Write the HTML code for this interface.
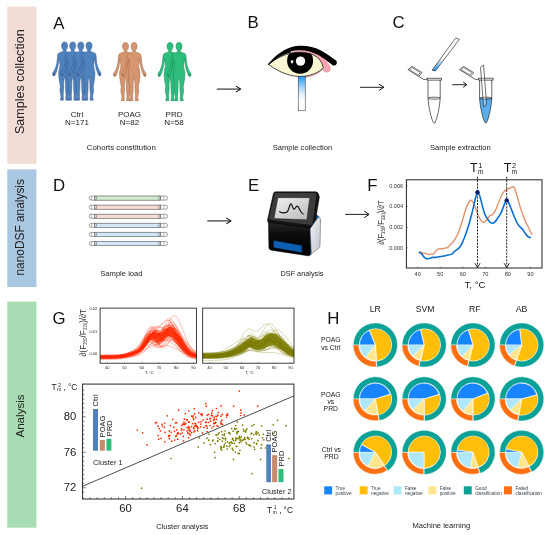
<!DOCTYPE html>
<html><head><meta charset="utf-8"><title>Figure</title>
<style>
html,body{margin:0;padding:0;background:#fff;}
svg{display:block;font-family:"Liberation Sans", sans-serif;}
</style></head><body>
<svg width="550" height="535" viewBox="0 0 550 535">
<rect width="550" height="535" fill="#fff"/>
<rect x="7.3" y="6.6" width="29.1" height="157.2" fill="#f3dcd6"/><rect x="7.3" y="169.4" width="29.1" height="117.6" fill="#a9c7e0"/><rect x="7.3" y="301.6" width="29.1" height="226.1" fill="#a8dcb2"/><text transform="translate(24.2,81.7) rotate(-90)" text-anchor="middle" font-size="12.55" fill="#222">Samples collection</text><text transform="translate(24.2,227.3) rotate(-90)" text-anchor="middle" font-size="11.9" fill="#222">nanoDSF analysis</text><text transform="translate(24.2,416) rotate(-90)" text-anchor="middle" font-size="11.6" fill="#222">Analysis</text><text x="53.2" y="28.6" font-size="16.8" fill="#111">A</text><text x="247.6" y="28.3" font-size="16.8" fill="#111">B</text><text x="392.6" y="28.3" font-size="16.8" fill="#111">C</text><text x="53" y="191.2" font-size="16.8" fill="#111">D</text><text x="248" y="191.2" font-size="16.8" fill="#111">E</text><text x="367.2" y="191.2" font-size="16.8" fill="#111">F</text><text x="52.6" y="324.4" font-size="16.8" fill="#111">G</text><text x="327.2" y="323.9" font-size="16.8" fill="#111">H</text><path d="M216.8 89.1H240.2" stroke="#222" stroke-width="1.1" fill="none"/><path d="M236.0 86.1L240.6 89.1L236.0 92.1" stroke="#111" stroke-width="1.1" fill="none" stroke-linejoin="miter"/><path d="M360 87.3H383.5" stroke="#222" stroke-width="1.0" fill="none"/><path d="M378.9 84.1L383.9 87.3L378.9 90.5" stroke="#111" stroke-width="1.0" fill="none" stroke-linejoin="miter"/><path d="M452.2 84.7H466.40000000000003" stroke="#222" stroke-width="1.0" fill="none"/><path d="M463.2 82.10000000000001L466.8 84.7L463.2 87.3" stroke="#111" stroke-width="1.0" fill="none" stroke-linejoin="miter"/><path d="M207.3 220.9H230.5" stroke="#222" stroke-width="1.1" fill="none"/><path d="M226.3 217.9L230.9 220.9L226.3 223.9" stroke="#111" stroke-width="1.1" fill="none" stroke-linejoin="miter"/><path d="M345.2 214.4H368.70000000000005" stroke="#222" stroke-width="1.0" fill="none"/><path d="M364.3 211.1L369.1 214.4L364.3 217.70000000000002" stroke="#111" stroke-width="1.0" fill="none" stroke-linejoin="miter"/><defs><path id="hm" d="M0 0 C2 0 3.1 1.6 3 4 C2.9 5.8 2.2 7.2 1.3 8 L1.3 9.2 C2.5 10 4.8 10.4 5.8 11 C6.8 11.8 7 13 7.1 14.5 C7.3 17 7.5 19.5 7.8 21.5 C8.3 24 9.2 26 10 28 C10.8 29.5 12 30.5 12 31.8 C12 33 11.4 34.2 10.6 34 C9.8 33.8 9.4 33 9 32 C8.2 29.5 7.4 27.5 6.9 25.5 C6.3 22.5 5.9 20 5.4 16.5 C5.3 19 4.7 21 4.6 23 C4.6 26 5.8 28 5.9 30.5 C6 33 5.7 35 5.5 37 C5.2 40 4.4 42 4.3 44 C4.3 46 4.7 47 4.6 48.5 C4.4 51 3.8 52.5 3.6 54.5 C3.5 56 4.4 57.2 4.3 58.2 L1.2 58.2 C1 56.5 1.5 55 1.4 53 C1.2 50 0.8 47 0.9 44 C1 40 0.6 37 0 34.5 C-0.6 37 -1 40 -0.9 44 C-0.8 47 -1.2 50 -1.4 53 C-1.5 55 -1 56.5 -1.2 58.2 L-4.3 58.2 C-4.4 57.2 -3.5 56 -3.6 54.5 C-3.8 52.5 -4.4 51 -4.6 48.5 C-4.7 47 -4.3 46 -4.3 44 C-4.4 42 -5.2 40 -5.5 37 C-5.7 35 -6 33 -5.9 30.5 C-5.8 28 -4.6 26 -4.6 23 C-4.7 21 -5.3 19 -5.4 16.5 C-5.9 20 -6.3 22.5 -6.9 25.5 C-7.4 27.5 -8.2 29.5 -9 32 C-9.4 33 -9.8 33.8 -10.6 34 C-11.4 34.2 -12 33 -12 31.8 C-12 30.5 -10.8 29.5 -10 28 C-9.2 26 -8.3 24 -7.8 21.5 C-7.5 19.5 -7.3 17 -7.1 14.5 C-7 13 -6.8 11.8 -5.8 11 C-4.8 10.4 -2.5 10 -1.3 9.2 L-1.3 8 C-2.2 7.2 -2.9 5.8 -3 4 C-3.1 1.6 -2 0 0 0 Z"/></defs><use href="#hm" x="64.6" y="42" fill="#4f81bd" stroke="#35598c" stroke-width="0.5"/><ellipse cx="53.699999999999996" cy="74.7" rx="0.9" ry="1.2" fill="#35598c" opacity="0.75"/><ellipse cx="75.5" cy="74.7" rx="0.9" ry="1.2" fill="#35598c" opacity="0.75"/><use href="#hm" x="72.7" y="42" fill="#4f81bd" stroke="#35598c" stroke-width="0.5"/><ellipse cx="61.800000000000004" cy="74.7" rx="0.9" ry="1.2" fill="#35598c" opacity="0.75"/><ellipse cx="83.60000000000001" cy="74.7" rx="0.9" ry="1.2" fill="#35598c" opacity="0.75"/><use href="#hm" x="80.8" y="42" fill="#4f81bd" stroke="#35598c" stroke-width="0.5"/><ellipse cx="69.89999999999999" cy="74.7" rx="0.9" ry="1.2" fill="#35598c" opacity="0.75"/><ellipse cx="91.7" cy="74.7" rx="0.9" ry="1.2" fill="#35598c" opacity="0.75"/><use href="#hm" x="89.0" y="42" fill="#4f81bd" stroke="#35598c" stroke-width="0.5"/><ellipse cx="78.1" cy="74.7" rx="0.9" ry="1.2" fill="#35598c" opacity="0.75"/><ellipse cx="99.9" cy="74.7" rx="0.9" ry="1.2" fill="#35598c" opacity="0.75"/><use href="#hm" x="125.5" y="42.5" fill="#d6956f" stroke="#9c6847" stroke-width="0.5"/><ellipse cx="114.6" cy="75.2" rx="0.9" ry="1.2" fill="#9c6847" opacity="0.75"/><ellipse cx="136.4" cy="75.2" rx="0.9" ry="1.2" fill="#9c6847" opacity="0.75"/><use href="#hm" x="134.1" y="42.5" fill="#d6956f" stroke="#9c6847" stroke-width="0.5"/><ellipse cx="123.19999999999999" cy="75.2" rx="0.9" ry="1.2" fill="#9c6847" opacity="0.75"/><ellipse cx="145.0" cy="75.2" rx="0.9" ry="1.2" fill="#9c6847" opacity="0.75"/><use href="#hm" x="170" y="42.5" fill="#2dbd7c" stroke="#1b8554" stroke-width="0.5"/><ellipse cx="159.1" cy="75.2" rx="0.9" ry="1.2" fill="#1b8554" opacity="0.75"/><ellipse cx="180.9" cy="75.2" rx="0.9" ry="1.2" fill="#1b8554" opacity="0.75"/><use href="#hm" x="179" y="42.5" fill="#2dbd7c" stroke="#1b8554" stroke-width="0.5"/><ellipse cx="168.1" cy="75.2" rx="0.9" ry="1.2" fill="#1b8554" opacity="0.75"/><ellipse cx="189.9" cy="75.2" rx="0.9" ry="1.2" fill="#1b8554" opacity="0.75"/><text x="77" y="117" text-anchor="middle" font-size="8" fill="#222">Ctrl</text><text x="77" y="124.7" text-anchor="middle" font-size="8" fill="#222">N=171</text><text x="129.5" y="117" text-anchor="middle" font-size="8" fill="#222">POAG</text><text x="129.5" y="124.7" text-anchor="middle" font-size="8" fill="#222">N=82</text><text x="174" y="117" text-anchor="middle" font-size="8" fill="#222">PRD</text><text x="174" y="124.7" text-anchor="middle" font-size="8" fill="#222">N=58</text><text x="121.3" y="150.4" text-anchor="middle" font-size="7.8" fill="#222">Cohorts constitution</text><defs><linearGradient id="strip" x1="0" y1="0" x2="0" y2="1"><stop offset="0" stop-color="#249bf3"/><stop offset="0.12" stop-color="#4fb0f6"/><stop offset="0.3" stop-color="#9fd0f9"/><stop offset="0.5" stop-color="#dceefc"/><stop offset="0.7" stop-color="#ffffff"/><stop offset="1" stop-color="#ffffff"/></linearGradient><clipPath id="eyeclip"><path d="M268.5 64.4 C276 58.5 284 54.5 292 53 C300 51.6 308 52.4 314 55.2 C319 57.8 322 62 323.2 67.5 C320 72 312 75.5 303 76.4 C292 77.2 280 73 268.5 64.4Z"/></clipPath></defs><path d="M287 53.8 C296 49.4 310 49.4 319.4 54.4 C325.4 58 328.2 62.6 329.8 66.2 C331.2 69 330.2 72 327.2 72.3 C324 72.4 322.2 70 322.8 67 L317 58 L300 52.6 Z" fill="#f5a5b2" stroke="#d88896" stroke-width="0.3"/><path d="M300 77.4 C310 77.2 319 73.5 323.8 68" stroke="#e9a9b0" stroke-width="1.2" fill="none"/><path d="M268.5 64.4 C276 58.5 284 54.5 292 53 C300 51.6 308 52.4 314 55.2 C319 57.8 322 62 323.2 67.5 C320 72 312 75.5 303 76.4 C292 77.2 280 73 268.5 64.4Z" fill="#fbf7d3" stroke="#222" stroke-width="0.8"/><g clip-path="url(#eyeclip)"><circle cx="300.1" cy="60.7" r="13" fill="#000"/></g><circle cx="300.5" cy="61.1" r="4.7" fill="#fff"/><path d="M290.6 60.6 L293.4 60.2 L293.2 63 L291.2 63.4Z" fill="#e8e8e8"/><path d="M268.5 64.4 C275 58 283 53.6 291 51.6" stroke="#000" stroke-width="1.1" fill="none"/><path d="M268.2 64.2 C274 56.8 282 50.3 291 47.3 C301 44.3 312 46.0 320.5 50.2 C326.5 53.4 332 57.6 336 60.6 C338 62.4 336.4 66.6 333 65.4 C329 62.2 324 58.4 318.8 55.2 C311 51 301 49 292 51 C283 53.2 275.5 58.2 268.6 65Z" fill="#000"/><rect x="298.2" y="76.2" width="7" height="34.6" fill="url(#strip)" stroke="#222" stroke-width="0.5"/><text x="302.5" y="150.2" text-anchor="middle" font-size="7.6" fill="#222">Sample collection</text><defs><linearGradient id="strip2" gradientUnits="userSpaceOnUse" x1="433.8" y1="70.5" x2="457.5" y2="38.5"><stop offset="0" stop-color="#2f9bf0"/><stop offset="0.15" stop-color="#6cb8f5"/><stop offset="0.38" stop-color="#ffffff"/><stop offset="1" stop-color="#ffffff"/></linearGradient></defs><g transform="translate(0,0)" fill="none" stroke="#222" stroke-width="0.7"><path d="M428 80.1 L428 98.2 C428.6 108 431.5 119 433.2 122 C433.8 123.4 434.8 123.4 435.2 122 C436.9 119 439.6 108 440.2 98.2 L440.2 80.1"/><ellipse cx="434.1" cy="98.2" rx="6.1" ry="1" /><rect x="427.1" y="78.2" width="14.4" height="1.9" fill="#fff"/><path d="M407.9 69.6 L412.1 66.4 L422 72.6 L418.7 76.4 Z" fill="#fff"/><path d="M409.6 69.7 L412.2 67.7 L420.2 72.8 L418.2 75.0 Z" stroke-width="0.5"/><path d="M418.7 76.4 L423.9 79.5 L427.4 79.1" /></g><path d="M455.7 37.9 L459.4 39.3 L435.5 70.9 L432.1 70.2 Z" fill="url(#strip2)" stroke="#222" stroke-width="0.65"/><g transform="translate(51.6,0)" fill="none" stroke="#222" stroke-width="0.7"><path d="M428 98.2 C428.6 108 431.5 119 433.2 122 C433.8 123.4 434.8 123.4 435.2 122 C436.9 119 439.6 108 440.2 98.2 Z" fill="#5aaeee" stroke="none"/><path d="M428 80.1 L428 98.2 C428.6 108 431.5 119 433.2 122 C433.8 123.4 434.8 123.4 435.2 122 C436.9 119 439.6 108 440.2 98.2 L440.2 80.1"/><ellipse cx="434.1" cy="98.2" rx="6.1" ry="1" /><rect x="427.1" y="78.2" width="14.4" height="1.9" fill="#fff"/><path d="M407.9 69.6 L412.1 66.4 L422 72.6 L418.7 76.4 Z" fill="#fff"/><path d="M409.6 69.7 L412.2 67.7 L420.2 72.8 L418.2 75.0 Z" stroke-width="0.5"/><path d="M418.7 76.4 L423.9 79.5 L427.4 79.1" /></g><path d="M480.5 67.4 L483.6 65.1 L486.6 104.5 L483.6 106.8 Z" fill="#ffffff" fill-opacity="0.35" stroke="#222" stroke-width="0.65"/><text x="460.3" y="150.2" text-anchor="middle" font-size="7.6" fill="#222">Sample extraction</text><rect x="89.2" y="196.10" width="78.4" height="4" rx="2" fill="#fff" stroke="#555" stroke-width="0.55"/><rect x="94.6" y="196.10" width="66.2" height="4" fill="#d3ecd0" stroke="#666" stroke-width="0.5"/><path d="M91.6 196.10V200.10" stroke="#666" stroke-width="0.45"/><path d="M164.0 196.10V200.10" stroke="#666" stroke-width="0.45"/><rect x="94.69999999999999" y="196.40" width="1.8" height="3.4" rx="0.8" fill="none" stroke="#556" stroke-width="0.5"/><rect x="158.7" y="196.40" width="1.8" height="3.4" rx="0.8" fill="none" stroke="#556" stroke-width="0.5"/><rect x="89.2" y="205.18" width="78.4" height="4" rx="2" fill="#fff" stroke="#555" stroke-width="0.55"/><rect x="94.6" y="205.18" width="66.2" height="4" fill="#f6dcd3" stroke="#666" stroke-width="0.5"/><path d="M91.6 205.18V209.18" stroke="#666" stroke-width="0.45"/><path d="M164.0 205.18V209.18" stroke="#666" stroke-width="0.45"/><rect x="94.69999999999999" y="205.48" width="1.8" height="3.4" rx="0.8" fill="none" stroke="#556" stroke-width="0.5"/><rect x="158.7" y="205.48" width="1.8" height="3.4" rx="0.8" fill="none" stroke="#556" stroke-width="0.5"/><rect x="89.2" y="214.26" width="78.4" height="4" rx="2" fill="#fff" stroke="#555" stroke-width="0.55"/><rect x="94.6" y="214.26" width="66.2" height="4" fill="#f6dcd3" stroke="#666" stroke-width="0.5"/><path d="M91.6 214.26V218.26" stroke="#666" stroke-width="0.45"/><path d="M164.0 214.26V218.26" stroke="#666" stroke-width="0.45"/><rect x="94.69999999999999" y="214.56" width="1.8" height="3.4" rx="0.8" fill="none" stroke="#556" stroke-width="0.5"/><rect x="158.7" y="214.56" width="1.8" height="3.4" rx="0.8" fill="none" stroke="#556" stroke-width="0.5"/><rect x="89.2" y="223.34" width="78.4" height="4" rx="2" fill="#fff" stroke="#555" stroke-width="0.55"/><rect x="94.6" y="223.34" width="66.2" height="4" fill="#d2e8f8" stroke="#666" stroke-width="0.5"/><path d="M91.6 223.34V227.34" stroke="#666" stroke-width="0.45"/><path d="M164.0 223.34V227.34" stroke="#666" stroke-width="0.45"/><rect x="94.69999999999999" y="223.64" width="1.8" height="3.4" rx="0.8" fill="none" stroke="#556" stroke-width="0.5"/><rect x="158.7" y="223.64" width="1.8" height="3.4" rx="0.8" fill="none" stroke="#556" stroke-width="0.5"/><rect x="89.2" y="232.42" width="78.4" height="4" rx="2" fill="#fff" stroke="#555" stroke-width="0.55"/><rect x="94.6" y="232.42" width="66.2" height="4" fill="#d2e8f8" stroke="#666" stroke-width="0.5"/><path d="M91.6 232.42V236.42" stroke="#666" stroke-width="0.45"/><path d="M164.0 232.42V236.42" stroke="#666" stroke-width="0.45"/><rect x="94.69999999999999" y="232.72" width="1.8" height="3.4" rx="0.8" fill="none" stroke="#556" stroke-width="0.5"/><rect x="158.7" y="232.72" width="1.8" height="3.4" rx="0.8" fill="none" stroke="#556" stroke-width="0.5"/><rect x="89.2" y="241.50" width="78.4" height="4" rx="2" fill="#fff" stroke="#555" stroke-width="0.55"/><rect x="94.6" y="241.50" width="66.2" height="4" fill="#d2e8f8" stroke="#666" stroke-width="0.5"/><path d="M91.6 241.50V245.50" stroke="#666" stroke-width="0.45"/><path d="M164.0 241.50V245.50" stroke="#666" stroke-width="0.45"/><rect x="94.69999999999999" y="241.80" width="1.8" height="3.4" rx="0.8" fill="none" stroke="#556" stroke-width="0.5"/><rect x="158.7" y="241.80" width="1.8" height="3.4" rx="0.8" fill="none" stroke="#556" stroke-width="0.5"/><text x="121.4" y="276.3" text-anchor="middle" font-size="7.6" fill="#222">Sample load</text><defs><linearGradient id="scr" x1="0" y1="0" x2="1" y2="1"><stop offset="0" stop-color="#f2f2f2"/><stop offset="1" stop-color="#b9b9b9"/></linearGradient><linearGradient id="side" x1="0" y1="0" x2="1" y2="1"><stop offset="0" stop-color="#f4f4f6"/><stop offset="1" stop-color="#bfc3cc"/></linearGradient><linearGradient id="bodyg" x1="0" y1="0" x2="0" y2="1"><stop offset="0" stop-color="#2a2a2a"/><stop offset="0.4" stop-color="#0a0a0a"/><stop offset="1" stop-color="#000"/></linearGradient></defs><path d="M314.5 213 L319.4 217 L312 230 L309 228 Z" fill="#0b5cad" stroke="#06335f" stroke-width="0.4"/><path d="M318.6 216.8 Q320.6 217.6 320.6 220 L320 246 Q319.9 247.6 318.6 248.4 L311.6 253.6 L309.9 229 Z" fill="url(#side)" stroke="#555" stroke-width="0.5"/><path d="M309.7 228.5 L311.4 254.6 L309 255.4 L308.6 229Z" fill="#0b5cad"/><path d="M268.4 221 L309.8 227 L310.4 253.6 Q310.4 256 308 255.8 L271.5 250.2 Q268.9 249.8 268.9 247.4 Z" fill="url(#bodyg)" stroke="#000" stroke-width="0.5"/><path d="M273.9 240.6 L301.8 245.6 L301.8 252.6 L273.9 247.6 Q273.2 244 273.9 240.6Z" fill="#0c5fb2" stroke="#042e57" stroke-width="0.4"/><path d="M275.6 191.8 L315.4 191.8 Q317.6 191.8 318.2 193.4 L319.2 196.2 Q319.4 197.2 319.2 198.2 L315.6 219.5 L310 228 L268 222.2 Q267.2 220.6 267.7 219.2 L273.4 193.6 Q273.9 191.8 275.6 191.8Z" fill="#141414" stroke="#000" stroke-width="0.5"/><path d="M276 193 L315 193 Q316.6 193 316.4 194.6 L312.6 223.6 Q312.3 225.2 310.6 225 L270.4 219.8 Q268.8 219.5 269.2 218 L274.4 194.4 Q274.8 193 276 193Z" fill="#3c3c3c"/><path d="M278 197.7 L309.7 197.7 L306.8 219.8 L274 218.4 Z" fill="url(#scr)" stroke="#111" stroke-width="0.4"/><path d="M279.6 211.6 C281 213.2 285 213.4 287 212 C288.6 210.8 288.8 208.2 289.8 205.2 C290.4 203.4 291.4 203.4 291.9 205.2 C292.6 207.6 293.2 209.4 294.2 209.2 C295.4 208.8 295.8 206.8 296.7 206.2 C298 205.6 299 208 300.2 210.4 C301 212 302 213.6 303.2 214" fill="none" stroke="#111" stroke-width="1.2" stroke-linecap="round"/><text x="302" y="276.3" text-anchor="middle" font-size="7.3" fill="#222">DSF analysis</text><path d="M418.5 252.7C418.9 252.6 419.7 251.8 420.5 251.9C421.2 252.0 422.3 253.0 423.2 253.3C424.1 253.5 425.0 253.3 425.9 253.5C426.8 253.8 427.7 254.5 428.6 254.6C429.5 254.7 430.5 254.3 431.4 254.1C432.3 253.9 433.2 254.2 434.1 253.5C435.0 252.9 435.9 250.8 436.8 250.0C437.7 249.2 438.6 248.8 439.5 248.6C440.5 248.4 441.4 249.0 442.3 248.9C443.2 248.8 444.1 248.4 445.0 248.1C445.9 247.8 446.8 247.9 447.7 247.3C448.6 246.7 449.5 245.4 450.4 244.5C451.4 243.6 452.3 242.9 453.2 241.8C454.1 240.7 455.0 239.3 455.9 237.7C456.8 236.1 457.7 234.5 458.6 232.3C459.5 230.0 460.4 227.0 461.4 224.1C462.3 221.1 463.2 217.5 464.1 214.5C465.0 211.6 465.9 208.5 466.8 206.4C467.7 204.2 468.8 202.5 469.5 201.5C470.3 200.5 470.8 200.1 471.4 200.4C472.1 200.6 472.8 201.4 473.6 203.1C474.4 204.8 475.4 208.1 476.4 210.4C477.3 212.8 478.2 215.4 479.1 217.3C480.0 219.1 481.0 220.5 481.8 221.4C482.6 222.2 483.2 222.4 484.0 222.2C484.8 221.9 485.8 221.0 486.7 220.0C487.6 218.9 488.4 216.8 489.4 215.9C490.4 215.0 491.7 215.4 492.7 214.5C493.7 213.6 494.5 212.3 495.4 210.4C496.4 208.6 497.3 205.9 498.2 203.6C499.1 201.4 500.0 198.7 500.9 196.8C501.8 194.9 502.7 193.4 503.6 192.2C504.5 191.0 505.4 190.0 506.4 189.5C507.3 188.9 508.3 189.0 509.1 188.6C509.9 188.3 510.6 187.6 511.3 187.3C511.9 187.0 512.5 186.4 513.2 186.7C513.8 187.1 514.4 187.8 515.1 189.5C515.8 191.1 516.4 194.0 517.3 196.8C518.1 199.6 519.1 203.4 520.0 206.4C520.9 209.3 521.8 212.0 522.7 214.5C523.6 217.0 524.5 219.3 525.4 221.4C526.4 223.4 527.3 225.0 528.2 226.8C529.1 228.6 530.2 231.0 530.9 232.3C531.6 233.5 532.0 233.9 532.3 234.2" fill="none" stroke="#e0926d" stroke-width="1.4" stroke-linejoin="round"/><path d="M419.1 252.2C419.5 252.5 420.9 253.2 421.8 254.1C422.7 255.0 423.6 256.8 424.5 257.6C425.5 258.4 426.4 258.9 427.3 259.0C428.2 259.1 429.1 258.4 430.0 258.2C430.9 257.9 431.8 257.5 432.7 257.4C433.6 257.2 434.1 257.5 435.5 257.4C436.8 257.2 439.1 256.9 440.9 256.5C442.7 256.2 444.5 255.9 446.4 255.4C448.2 255.0 450.4 254.8 451.8 254.1C453.2 253.4 453.6 252.1 454.5 251.4C455.4 250.6 456.4 250.2 457.3 249.4C458.2 248.7 459.1 248.0 460.0 246.7C460.9 245.4 461.8 243.8 462.7 241.8C463.6 239.9 464.5 237.5 465.4 235.0C466.4 232.5 467.3 229.8 468.2 226.8C469.1 223.9 470.0 220.7 470.9 217.3C471.8 213.9 472.8 209.8 473.6 206.4C474.4 203.0 475.1 199.2 475.8 196.8C476.5 194.5 477.1 192.4 477.7 192.2C478.4 192.0 478.9 193.5 479.6 195.5C480.3 197.4 481.0 200.7 481.8 203.6C482.6 206.6 483.6 210.7 484.5 213.2C485.4 215.7 486.4 217.1 487.3 218.6C488.2 220.1 489.1 221.4 490.0 222.2C490.9 222.9 491.8 223.4 492.7 223.3C493.6 223.1 494.5 222.4 495.4 221.4C496.4 220.4 497.3 218.6 498.2 217.3C499.1 215.9 500.0 215.0 500.9 213.2C501.8 211.4 502.8 208.4 503.6 206.4C504.4 204.3 505.3 202.0 505.8 200.9C506.4 199.9 506.4 199.6 506.9 200.1C507.4 200.5 508.3 201.9 509.1 203.6C509.9 205.4 510.9 208.2 511.8 210.4C512.7 212.7 513.6 215.1 514.5 217.3C515.4 219.4 516.4 221.7 517.3 223.3C518.2 224.9 519.1 225.8 520.0 226.8C520.9 227.9 521.8 228.4 522.7 229.5C523.6 230.7 524.5 232.4 525.4 233.6C526.4 234.9 527.3 236.2 528.2 236.9C529.1 237.6 530.4 237.6 530.9 237.7" fill="none" stroke="#0b6fd2" stroke-width="1.6" stroke-linejoin="round"/><rect x="406.4" y="179.8" width="135.60000000000002" height="88.19999999999999" fill="none" stroke="#222" stroke-width="1.0"/><path d="M417.7 268.0v-1.5" stroke="#111" stroke-width="0.4"/><text x="417.7" y="275.6" text-anchor="middle" font-size="5.6" fill="#333">40</text><path d="M440.2 268.0v-1.5" stroke="#111" stroke-width="0.4"/><text x="440.2" y="275.6" text-anchor="middle" font-size="5.6" fill="#333">50</text><path d="M462.8 268.0v-1.5" stroke="#111" stroke-width="0.4"/><text x="462.8" y="275.6" text-anchor="middle" font-size="5.6" fill="#333">60</text><path d="M485.3 268.0v-1.5" stroke="#111" stroke-width="0.4"/><text x="485.3" y="275.6" text-anchor="middle" font-size="5.6" fill="#333">70</text><path d="M507.8 268.0v-1.5" stroke="#111" stroke-width="0.4"/><text x="507.8" y="275.6" text-anchor="middle" font-size="5.6" fill="#333">80</text><path d="M530.4 268.0v-1.5" stroke="#111" stroke-width="0.4"/><text x="530.4" y="275.6" text-anchor="middle" font-size="5.6" fill="#333">90</text><path d="M406.4 185.9h1.5" stroke="#111" stroke-width="0.4"/><text x="403.2" y="187.9" text-anchor="end" font-size="5.6" fill="#333">0.006</text><path d="M406.4 206.4h1.5" stroke="#111" stroke-width="0.4"/><text x="403.2" y="208.4" text-anchor="end" font-size="5.6" fill="#333">0.004</text><path d="M406.4 227.4h1.5" stroke="#111" stroke-width="0.4"/><text x="403.2" y="229.4" text-anchor="end" font-size="5.6" fill="#333">0.002</text><path d="M406.4 247.8h1.5" stroke="#111" stroke-width="0.4"/><text x="403.2" y="249.8" text-anchor="end" font-size="5.6" fill="#333">0.000</text><path d="M477.5 176.6V267" stroke="#111" stroke-width="0.9" stroke-dasharray="2.2 1.1" fill="none"/><path d="M474.9 263.2L477.5 267.5L480.1 263.2" stroke="#111" stroke-width="0.9" fill="none"/><circle cx="477.5" cy="192.2" r="2.2" fill="#0a1c6e"/><path d="M506.7 176.6V267" stroke="#111" stroke-width="0.9" stroke-dasharray="2.2 1.1" fill="none"/><path d="M504.09999999999997 263.2L506.7 267.5L509.3 263.2" stroke="#111" stroke-width="0.9" fill="none"/><circle cx="506.7" cy="200.4" r="2.2" fill="#0a1c6e"/><text x="470.0" y="171.5" font-size="12.5" fill="#111">T</text><text x="478.3" y="167.7" font-size="7.4" fill="#111">1</text><text x="478.0" y="173.8" font-size="6.4" fill="#111">m</text><text x="503.7" y="171.5" font-size="12.5" fill="#111">T</text><text x="512.0" y="167.7" font-size="7.4" fill="#111">2</text><text x="511.7" y="173.8" font-size="6.4" fill="#111">m</text><text x="475" y="287.5" text-anchor="middle" font-size="9.6" fill="#222">T, °C</text><text transform="translate(383.8,222.6) rotate(-90) scale(0.81,1)" text-anchor="middle" font-size="9.2" fill="#333">∂(F<tspan font-size="5.2" dy="1">350</tspan><tspan dy="-1">/F</tspan><tspan font-size="5.2" dy="1">330</tspan><tspan dy="-1">)/∂T</tspan></text><clipPath id="mc11"><rect x="100.1" y="308.1" width="96.4" height="55.099999999999966"/></clipPath><g clip-path="url(#mc11)" fill="none" stroke="#ff2a00" stroke-linejoin="round"><path d="M100.1 356.3 L102.3 356.3 L104.6 356.3 L106.8 356.3 L109.1 356.3 L111.3 356.3 L113.6 356.2 L115.8 356.1 L118.0 355.9 L120.3 355.7 L122.5 355.4 L124.8 355.0 L127.0 354.5 L129.2 353.8 L131.5 353.2 L133.7 352.2 L136.0 351.2 L138.2 349.9 L140.5 347.5 L142.7 344.4 L144.9 340.7 L147.2 337.3 L149.4 334.4 L151.7 333.3 L153.9 331.7 L156.1 331.9 L158.4 333.2 L160.6 332.5 L162.9 331.4 L165.1 329.4 L167.4 327.9 L169.6 326.8 L171.8 327.2 L174.1 328.7 L176.3 332.6 L178.6 334.9 L180.8 338.4 L183.0 342.0 L185.3 345.5 L187.5 348.6 L189.8 350.9 L192.0 353.0 L194.3 354.1 L196.5 355.0 L196.5 356.8 L194.3 356.5 L192.0 355.9 L189.8 355.0 L187.5 353.8 L185.3 352.0 L183.0 349.8 L180.8 346.9 L178.6 344.4 L176.3 341.5 L174.1 338.8 L171.8 336.6 L169.6 335.9 L167.4 336.2 L165.1 338.1 L162.9 340.2 L160.6 341.6 L158.4 343.1 L156.1 341.8 L153.9 340.2 L151.7 339.1 L149.4 340.0 L147.2 343.2 L144.9 346.1 L142.7 348.7 L140.5 350.6 L138.2 352.1 L136.0 353.1 L133.7 353.9 L131.5 354.6 L129.2 355.3 L127.0 355.9 L124.8 356.4 L122.5 356.8 L120.3 357.0 L118.0 357.3 L115.8 357.4 L113.6 357.5 L111.3 357.5 L109.1 357.5 L106.8 357.5 L104.6 357.6 L102.3 357.6 L100.1 357.6Z" fill="#ff2a00" stroke="none" opacity="0.8"/><path d="M100.1 357.6 L102.3 357.6 L104.6 357.6 L106.8 357.5 L109.1 357.5 L111.3 357.5 L113.6 357.5 L115.8 357.5 L118.0 357.4 L120.3 357.3 L122.5 357.2 L124.8 357.0 L127.0 356.8 L129.2 356.5 L131.5 356.2 L133.7 355.8 L136.0 355.1 L138.2 354.1 L140.5 352.3 L142.7 349.3 L144.9 345.2 L147.2 340.5 L149.4 336.2 L151.7 333.5 L153.9 332.7 L156.1 333.2 L158.4 333.4 L160.6 332.5 L162.9 330.3 L165.1 327.6 L167.4 325.7 L169.6 325.5 L171.8 327.1 L174.1 330.2 L176.3 334.5 L178.6 339.2 L180.8 343.9 L183.0 348.0 L185.3 351.2 L187.5 353.6 L189.8 355.3 L192.0 356.3 L194.3 356.9 L196.5 357.2" stroke-width="0.4" opacity="0.7"/><path d="M100.1 357.1 L102.3 357.1 L104.6 357.1 L106.8 357.1 L109.1 357.0 L111.3 357.0 L113.6 356.9 L115.8 356.9 L118.0 356.7 L120.3 356.5 L122.5 356.2 L124.8 355.9 L127.0 355.5 L129.2 355.0 L131.5 354.4 L133.7 353.8 L136.0 353.0 L138.2 351.9 L140.5 350.2 L142.7 347.7 L144.9 344.4 L147.2 341.2 L149.4 339.1 L151.7 339.1 L153.9 340.9 L156.1 343.5 L158.4 345.2 L160.6 344.9 L162.9 342.7 L165.1 339.2 L167.4 335.7 L169.6 333.3 L171.8 332.9 L174.1 333.6 L176.3 335.2 L178.6 337.3 L180.8 339.9 L183.0 342.7 L185.3 345.5 L187.5 348.0 L189.8 350.3 L192.0 352.2 L194.3 353.6 L196.5 354.8" stroke-width="0.4" opacity="0.7"/><path d="M100.1 357.0 L102.3 357.0 L104.6 357.0 L106.8 357.0 L109.1 357.0 L111.3 357.0 L113.6 356.9 L115.8 356.9 L118.0 356.8 L120.3 356.6 L122.5 356.4 L124.8 356.1 L127.0 355.7 L129.2 355.2 L131.5 354.6 L133.7 353.9 L136.0 353.1 L138.2 352.1 L140.5 350.7 L142.7 348.4 L144.9 344.7 L147.2 339.6 L149.4 334.3 L151.7 330.5 L153.9 329.8 L156.1 332.0 L158.4 334.9 L160.6 336.4 L162.9 335.4 L165.1 332.4 L167.4 328.8 L169.6 326.2 L171.8 325.8 L174.1 327.1 L176.3 329.8 L178.6 333.5 L180.8 337.7 L183.0 342.0 L185.3 345.9 L187.5 349.2 L189.8 351.8 L192.0 353.7 L194.3 355.0 L196.5 355.9" stroke-width="0.4" opacity="0.7"/><path d="M100.1 356.8 L102.3 356.8 L104.6 356.8 L106.8 356.8 L109.1 356.8 L111.3 356.7 L113.6 356.7 L115.8 356.7 L118.0 356.6 L120.3 356.5 L122.5 356.3 L124.8 356.0 L127.0 355.7 L129.2 355.2 L131.5 354.7 L133.7 354.0 L136.0 353.2 L138.2 352.2 L140.5 350.9 L142.7 349.1 L144.9 346.5 L147.2 343.2 L149.4 339.9 L151.7 337.8 L153.9 337.8 L156.1 340.1 L158.4 343.5 L160.6 346.6 L162.9 348.1 L165.1 347.4 L167.4 344.6 L169.6 340.7 L171.8 336.7 L174.1 333.9 L176.3 333.3 L178.6 334.2 L180.8 336.1 L183.0 338.7 L185.3 341.8 L187.5 344.9 L189.8 347.8 L192.0 350.3 L194.3 352.3 L196.5 353.9" stroke-width="0.4" opacity="0.7"/><path d="M100.1 356.5 L102.3 356.5 L104.6 356.5 L106.8 356.5 L109.1 356.4 L111.3 356.4 L113.6 356.3 L115.8 356.1 L118.0 355.9 L120.3 355.5 L122.5 355.1 L124.8 354.6 L127.0 353.9 L129.2 353.1 L131.5 352.0 L133.7 350.6 L136.0 348.6 L138.2 345.9 L140.5 342.6 L142.7 339.1 L144.9 336.2 L147.2 334.8 L149.4 334.9 L151.7 335.9 L153.9 336.8 L156.1 336.6 L158.4 334.9 L160.6 332.0 L162.9 328.8 L165.1 326.2 L167.4 325.0 L169.6 325.5 L171.8 327.1 L174.1 329.8 L176.3 333.2 L178.6 336.9 L180.8 340.7 L183.0 344.3 L185.3 347.5 L187.5 350.1 L189.8 352.1 L192.0 353.7 L194.3 354.7 L196.5 355.4" stroke-width="0.4" opacity="0.7"/><path d="M100.1 357.5 L102.3 357.5 L104.6 357.5 L106.8 357.5 L109.1 357.5 L111.3 357.5 L113.6 357.4 L115.8 357.4 L118.0 357.3 L120.3 357.1 L122.5 356.9 L124.8 356.5 L127.0 356.1 L129.2 355.6 L131.5 355.0 L133.7 354.3 L136.0 353.4 L138.2 352.3 L140.5 350.5 L142.7 347.6 L144.9 343.3 L147.2 338.6 L149.4 335.1 L151.7 334.6 L153.9 337.3 L156.1 341.6 L158.4 345.3 L160.6 346.9 L162.9 346.1 L165.1 343.6 L167.4 340.2 L169.6 337.0 L171.8 334.8 L174.1 334.3 L176.3 334.8 L178.6 336.0 L180.8 337.6 L183.0 339.7 L185.3 342.0 L187.5 344.4 L189.8 346.7 L192.0 348.9 L194.3 350.9 L196.5 352.5" stroke-width="0.4" opacity="0.7"/><path d="M100.1 356.4 L102.3 356.4 L104.6 356.4 L106.8 356.3 L109.1 356.3 L111.3 356.3 L113.6 356.3 L115.8 356.2 L118.0 356.1 L120.3 356.0 L122.5 355.8 L124.8 355.5 L127.0 355.1 L129.2 354.6 L131.5 354.1 L133.7 353.4 L136.0 352.6 L138.2 351.7 L140.5 350.4 L142.7 348.5 L144.9 345.8 L147.2 342.1 L149.4 338.3 L151.7 335.1 L153.9 333.7 L156.1 334.2 L158.4 336.1 L160.6 338.0 L162.9 339.0 L165.1 338.9 L167.4 338.0 L169.6 336.9 L171.8 336.5 L174.1 336.8 L176.3 337.8 L178.6 339.3 L180.8 341.3 L183.0 343.5 L185.3 345.7 L187.5 347.9 L189.8 349.9 L192.0 351.6 L194.3 353.0 L196.5 354.1" stroke-width="0.4" opacity="0.7"/><path d="M100.1 356.2 L102.3 356.2 L104.6 356.1 L106.8 356.1 L109.1 356.1 L111.3 356.0 L113.6 355.9 L115.8 355.7 L118.0 355.4 L120.3 355.0 L122.5 354.5 L124.8 353.9 L127.0 353.2 L129.2 352.4 L131.5 351.6 L133.7 350.7 L136.0 349.9 L138.2 348.9 L140.5 347.4 L142.7 345.2 L144.9 342.5 L147.2 340.3 L149.4 339.7 L151.7 341.3 L153.9 344.2 L156.1 346.8 L158.4 347.9 L160.6 347.2 L162.9 345.2 L165.1 342.6 L167.4 340.4 L169.6 339.3 L171.8 339.6 L174.1 340.7 L176.3 342.4 L178.6 344.6 L180.8 346.9 L183.0 349.1 L185.3 351.1 L187.5 352.7 L189.8 353.9 L192.0 354.8 L194.3 355.4 L196.5 355.7" stroke-width="0.4" opacity="0.7"/><path d="M100.1 355.9 L102.3 355.9 L104.6 355.9 L106.8 355.9 L109.1 355.9 L111.3 355.9 L113.6 355.9 L115.8 355.8 L118.0 355.8 L120.3 355.7 L122.5 355.5 L124.8 355.3 L127.0 354.9 L129.2 354.5 L131.5 354.0 L133.7 353.3 L136.0 352.6 L138.2 351.7 L140.5 350.6 L142.7 348.9 L144.9 346.7 L147.2 343.9 L149.4 341.0 L151.7 338.8 L153.9 337.8 L156.1 338.3 L158.4 339.6 L160.6 340.7 L162.9 340.9 L165.1 340.1 L167.4 338.5 L169.6 337.0 L171.8 336.1 L174.1 336.3 L176.3 337.7 L178.6 339.9 L180.8 342.8 L183.0 345.8 L185.3 348.6 L187.5 351.0 L189.8 352.8 L192.0 354.1 L194.3 354.9 L196.5 355.4" stroke-width="0.4" opacity="0.7"/><path d="M100.1 356.9 L102.3 356.9 L104.6 356.9 L106.8 356.9 L109.1 356.8 L111.3 356.8 L113.6 356.8 L115.8 356.7 L118.0 356.6 L120.3 356.4 L122.5 356.2 L124.8 355.9 L127.0 355.6 L129.2 355.1 L131.5 354.7 L133.7 354.1 L136.0 353.4 L138.2 352.4 L140.5 350.6 L142.7 347.8 L144.9 343.6 L147.2 338.6 L149.4 333.9 L151.7 330.9 L153.9 330.1 L156.1 330.9 L158.4 332.0 L160.6 332.2 L162.9 331.4 L165.1 330.1 L167.4 329.2 L169.6 329.2 L171.8 330.0 L174.1 331.4 L176.3 333.5 L178.6 335.9 L180.8 338.7 L183.0 341.6 L185.3 344.3 L187.5 346.9 L189.8 349.2 L192.0 351.1 L194.3 352.7 L196.5 353.9" stroke-width="0.4" opacity="0.7"/><path d="M100.1 358.1 L102.3 358.1 L104.6 358.1 L106.8 358.1 L109.1 358.0 L111.3 358.0 L113.6 357.9 L115.8 357.8 L118.0 357.7 L120.3 357.4 L122.5 357.1 L124.8 356.6 L127.0 356.1 L129.2 355.4 L131.5 354.5 L133.7 353.7 L136.0 352.7 L138.2 351.6 L140.5 350.2 L142.7 348.2 L144.9 345.3 L147.2 342.0 L149.4 338.8 L151.7 336.9 L153.9 336.6 L156.1 337.6 L158.4 338.7 L160.6 338.7 L162.9 337.3 L165.1 335.1 L167.4 332.8 L169.6 331.6 L171.8 331.7 L174.1 333.0 L176.3 335.3 L178.6 338.2 L180.8 341.5 L183.0 344.9 L185.3 348.0 L187.5 350.7 L189.8 353.0 L192.0 354.7 L194.3 355.9 L196.5 356.8" stroke-width="0.4" opacity="0.7"/><path d="M100.1 356.7 L102.3 356.7 L104.6 356.7 L106.8 356.7 L109.1 356.7 L111.3 356.7 L113.6 356.6 L115.8 356.6 L118.0 356.5 L120.3 356.3 L122.5 356.1 L124.8 355.8 L127.0 355.5 L129.2 355.0 L131.5 354.4 L133.7 353.6 L136.0 352.5 L138.2 350.9 L140.5 348.8 L142.7 345.9 L144.9 342.6 L147.2 339.3 L149.4 336.6 L151.7 334.9 L153.9 334.3 L156.1 334.2 L158.4 333.8 L160.6 332.4 L162.9 330.1 L165.1 327.3 L167.4 325.0 L169.6 324.2 L171.8 325.1 L174.1 327.4 L176.3 330.9 L178.6 335.1 L180.8 339.5 L183.0 343.7 L185.3 347.4 L187.5 350.4 L189.8 352.6 L192.0 354.2 L194.3 355.3 L196.5 355.9" stroke-width="0.4" opacity="0.7"/><path d="M100.1 356.6 L102.3 356.6 L104.6 356.6 L106.8 356.6 L109.1 356.5 L111.3 356.5 L113.6 356.5 L115.8 356.4 L118.0 356.3 L120.3 356.1 L122.5 355.8 L124.8 355.5 L127.0 355.0 L129.2 354.3 L131.5 353.5 L133.7 352.7 L136.0 351.7 L138.2 350.6 L140.5 349.3 L142.7 347.6 L144.9 345.2 L147.2 342.2 L149.4 338.9 L151.7 336.3 L153.9 335.5 L156.1 336.5 L158.4 338.3 L160.6 339.3 L162.9 338.1 L165.1 334.8 L167.4 330.9 L169.6 328.2 L171.8 328.1 L174.1 329.2 L176.3 331.3 L178.6 334.0 L180.8 337.1 L183.0 340.4 L185.3 343.6 L187.5 346.6 L189.8 349.2 L192.0 351.3 L194.3 352.9 L196.5 354.2" stroke-width="0.4" opacity="0.7"/><path d="M100.1 357.5 L102.3 357.5 L104.6 357.5 L106.8 357.5 L109.1 357.5 L111.3 357.5 L113.6 357.4 L115.8 357.4 L118.0 357.2 L120.3 357.0 L122.5 356.8 L124.8 356.4 L127.0 355.9 L129.2 355.3 L131.5 354.6 L133.7 353.7 L136.0 352.6 L138.2 351.3 L140.5 349.7 L142.7 347.5 L144.9 345.0 L147.2 342.4 L149.4 340.5 L151.7 339.7 L153.9 340.3 L156.1 341.8 L158.4 343.2 L160.6 343.5 L162.9 342.3 L165.1 339.7 L167.4 336.7 L169.6 334.3 L171.8 333.6 L174.1 334.5 L176.3 336.4 L178.6 339.1 L180.8 342.3 L183.0 345.6 L185.3 348.6 L187.5 351.3 L189.8 353.4 L192.0 354.9 L194.3 355.9 L196.5 356.6" stroke-width="0.4" opacity="0.7"/><path d="M100.1 356.3 L102.3 356.3 L104.6 356.3 L106.8 356.3 L109.1 356.2 L111.3 356.2 L113.6 356.1 L115.8 356.0 L118.0 355.8 L120.3 355.5 L122.5 355.1 L124.8 354.6 L127.0 353.9 L129.2 353.2 L131.5 352.4 L133.7 351.4 L136.0 350.2 L138.2 348.5 L140.5 346.1 L142.7 342.9 L144.9 339.8 L147.2 337.6 L149.4 337.3 L151.7 338.8 L153.9 340.8 L156.1 342.0 L158.4 341.7 L160.6 340.0 L162.9 337.8 L165.1 336.0 L167.4 335.4 L169.6 336.0 L171.8 337.6 L174.1 340.0 L176.3 342.8 L178.6 345.8 L180.8 348.5 L183.0 350.9 L185.3 352.7 L187.5 354.1 L189.8 355.0 L192.0 355.6 L194.3 355.9 L196.5 356.1" stroke-width="0.4" opacity="0.7"/><path d="M100.1 356.3 L102.3 356.3 L104.6 356.3 L106.8 356.3 L109.1 356.3 L111.3 356.2 L113.6 356.2 L115.8 356.2 L118.0 356.1 L120.3 355.9 L122.5 355.7 L124.8 355.4 L127.0 355.1 L129.2 354.6 L131.5 354.0 L133.7 353.3 L136.0 352.5 L138.2 351.5 L140.5 350.1 L142.7 347.8 L144.9 344.0 L147.2 338.5 L149.4 332.4 L151.7 327.5 L153.9 326.0 L156.1 328.3 L158.4 332.5 L160.6 335.9 L162.9 336.3 L165.1 333.2 L167.4 327.6 L169.6 321.6 L171.8 317.0 L174.1 315.4 L176.3 316.7 L178.6 320.0 L180.8 324.7 L183.0 330.3 L185.3 336.1 L187.5 341.4 L189.8 345.9 L192.0 349.4 L194.3 352.0 L196.5 353.7" stroke-width="0.4" opacity="0.7"/><path d="M100.1 357.9 L102.3 357.9 L104.6 357.9 L106.8 357.9 L109.1 357.9 L111.3 357.8 L113.6 357.7 L115.8 357.6 L118.0 357.4 L120.3 357.0 L122.5 356.6 L124.8 356.1 L127.0 355.5 L129.2 354.8 L131.5 354.0 L133.7 353.2 L136.0 352.2 L138.2 350.9 L140.5 349.0 L142.7 346.3 L144.9 342.7 L147.2 339.1 L149.4 336.3 L151.7 335.1 L153.9 335.5 L156.1 336.6 L158.4 337.1 L160.6 336.7 L162.9 335.5 L165.1 334.5 L167.4 334.5 L169.6 335.9 L171.8 338.6 L174.1 342.0 L176.3 345.7 L178.6 349.2 L180.8 352.1 L183.0 354.3 L185.3 355.9 L187.5 356.8 L189.8 357.4 L192.0 357.7 L194.3 357.8 L196.5 357.9" stroke-width="0.4" opacity="0.7"/><path d="M100.1 355.6 L102.3 355.6 L104.6 355.6 L106.8 355.6 L109.1 355.6 L111.3 355.5 L113.6 355.5 L115.8 355.4 L118.0 355.3 L120.3 355.2 L122.5 354.9 L124.8 354.6 L127.0 354.2 L129.2 353.7 L131.5 353.1 L133.7 352.4 L136.0 351.4 L138.2 349.9 L140.5 347.4 L142.7 343.7 L144.9 338.9 L147.2 334.3 L149.4 331.5 L151.7 331.2 L153.9 332.9 L156.1 335.0 L158.4 336.0 L160.6 335.5 L162.9 334.2 L165.1 333.2 L167.4 333.4 L169.6 334.6 L171.8 336.6 L174.1 339.3 L176.3 342.3 L178.6 345.2 L180.8 347.9 L183.0 350.2 L185.3 352.0 L187.5 353.3 L189.8 354.2 L192.0 354.8 L194.3 355.2 L196.5 355.4" stroke-width="0.4" opacity="0.7"/><path d="M100.1 357.9 L102.3 357.9 L104.6 357.9 L106.8 357.9 L109.1 357.8 L111.3 357.8 L113.6 357.6 L115.8 357.4 L118.0 357.1 L120.3 356.7 L122.5 356.1 L124.8 355.5 L127.0 354.6 L129.2 353.7 L131.5 352.7 L133.7 351.7 L136.0 350.6 L138.2 349.0 L140.5 346.6 L142.7 343.1 L144.9 339.0 L147.2 336.4 L149.4 336.8 L151.7 340.0 L153.9 343.9 L156.1 346.2 L158.4 345.7 L160.6 342.6 L162.9 337.9 L165.1 333.1 L167.4 329.7 L169.6 328.8 L171.8 330.1 L174.1 333.0 L176.3 337.0 L178.6 341.4 L180.8 345.8 L183.0 349.5 L185.3 352.5 L187.5 354.7 L189.8 356.1 L192.0 357.0 L194.3 357.5 L196.5 357.7" stroke-width="0.4" opacity="0.7"/><path d="M100.1 358.3 L102.3 358.3 L104.6 358.3 L106.8 358.3 L109.1 358.3 L111.3 358.2 L113.6 358.1 L115.8 358.0 L118.0 357.9 L120.3 357.6 L122.5 357.3 L124.8 356.8 L127.0 356.2 L129.2 355.5 L131.5 354.6 L133.7 353.6 L136.0 352.3 L138.2 350.8 L140.5 348.7 L142.7 345.9 L144.9 342.8 L147.2 340.1 L149.4 338.8 L151.7 339.3 L153.9 341.1 L156.1 342.9 L158.4 343.6 L160.6 342.7 L162.9 340.6 L165.1 338.2 L167.4 336.2 L169.6 335.4 L171.8 335.9 L174.1 337.4 L176.3 339.6 L178.6 342.4 L180.8 345.4 L183.0 348.3 L185.3 350.9 L187.5 353.1 L189.8 354.8 L192.0 356.1 L194.3 356.9 L196.5 357.5" stroke-width="0.4" opacity="0.7"/><path d="M100.1 356.3 L102.3 356.3 L104.6 356.3 L106.8 356.3 L109.1 356.3 L111.3 356.3 L113.6 356.2 L115.8 356.2 L118.0 356.0 L120.3 355.9 L122.5 355.6 L124.8 355.3 L127.0 354.8 L129.2 354.2 L131.5 353.5 L133.7 352.8 L136.0 351.9 L138.2 351.0 L140.5 350.0 L142.7 348.5 L144.9 346.5 L147.2 343.6 L149.4 340.0 L151.7 336.0 L153.9 332.4 L156.1 329.7 L158.4 328.1 L160.6 327.4 L162.9 327.4 L165.1 328.2 L167.4 329.8 L169.6 332.0 L171.8 334.8 L174.1 338.1 L176.3 341.6 L178.6 345.0 L180.8 348.0 L183.0 350.5 L185.3 352.5 L187.5 353.9 L189.8 354.9 L192.0 355.5 L194.3 355.9 L196.5 356.1" stroke-width="0.4" opacity="0.7"/><path d="M100.1 355.9 L102.3 355.9 L104.6 355.9 L106.8 355.9 L109.1 355.9 L111.3 355.8 L113.6 355.8 L115.8 355.7 L118.0 355.6 L120.3 355.4 L122.5 355.1 L124.8 354.8 L127.0 354.3 L129.2 353.8 L131.5 353.2 L133.7 352.4 L136.0 351.3 L138.2 349.9 L140.5 347.9 L142.7 345.4 L144.9 342.5 L147.2 339.8 L149.4 337.9 L151.7 337.2 L153.9 337.3 L156.1 337.6 L158.4 337.6 L160.6 336.8 L162.9 335.6 L165.1 334.5 L167.4 334.3 L169.6 335.0 L171.8 336.3 L174.1 338.0 L176.3 340.0 L178.6 342.3 L180.8 344.7 L183.0 347.0 L185.3 349.0 L187.5 350.8 L189.8 352.2 L192.0 353.3 L194.3 354.2 L196.5 354.8" stroke-width="0.4" opacity="0.7"/><path d="M100.1 357.0 L102.3 357.0 L104.6 357.0 L106.8 357.0 L109.1 356.9 L111.3 356.9 L113.6 356.9 L115.8 356.8 L118.0 356.6 L120.3 356.4 L122.5 356.1 L124.8 355.8 L127.0 355.3 L129.2 354.8 L131.5 354.1 L133.7 353.4 L136.0 352.6 L138.2 351.4 L140.5 349.6 L142.7 347.0 L144.9 343.5 L147.2 339.9 L149.4 337.0 L151.7 335.5 L153.9 335.5 L156.1 336.1 L158.4 336.4 L160.6 335.7 L162.9 334.6 L165.1 333.7 L167.4 333.9 L169.6 335.2 L171.8 337.3 L174.1 340.0 L176.3 343.1 L178.6 346.3 L180.8 349.1 L183.0 351.5 L185.3 353.4 L187.5 354.7 L189.8 355.6 L192.0 356.2 L194.3 356.6 L196.5 356.8" stroke-width="0.4" opacity="0.7"/><path d="M100.1 357.2 L102.3 357.2 L104.6 357.2 L106.8 357.2 L109.1 357.2 L111.3 357.1 L113.6 357.1 L115.8 357.0 L118.0 356.8 L120.3 356.6 L122.5 356.3 L124.8 356.0 L127.0 355.5 L129.2 354.9 L131.5 354.1 L133.7 353.2 L136.0 351.9 L138.2 349.9 L140.5 346.9 L142.7 342.6 L144.9 337.4 L147.2 332.2 L149.4 328.6 L151.7 327.6 L153.9 329.2 L156.1 332.5 L158.4 335.5 L160.6 337.0 L162.9 336.4 L165.1 334.3 L167.4 331.5 L169.6 329.0 L171.8 327.8 L174.1 328.1 L176.3 329.2 L178.6 331.1 L180.8 333.6 L183.0 336.5 L185.3 339.7 L187.5 342.8 L189.8 345.7 L192.0 348.4 L194.3 350.6 L196.5 352.4" stroke-width="0.4" opacity="0.7"/><path d="M100.1 355.9 L102.3 355.9 L104.6 355.9 L106.8 355.9 L109.1 355.9 L111.3 355.9 L113.6 355.9 L115.8 355.8 L118.0 355.7 L120.3 355.6 L122.5 355.3 L124.8 355.0 L127.0 354.6 L129.2 354.1 L131.5 353.5 L133.7 352.9 L136.0 352.1 L138.2 351.2 L140.5 350.2 L142.7 348.8 L144.9 346.9 L147.2 344.2 L149.4 341.2 L151.7 338.5 L153.9 337.0 L156.1 337.2 L158.4 338.7 L160.6 340.3 L162.9 340.8 L165.1 339.3 L167.4 336.2 L169.6 332.4 L171.8 329.5 L174.1 328.6 L176.3 329.8 L178.6 332.6 L180.8 336.5 L183.0 340.8 L185.3 345.0 L187.5 348.6 L189.8 351.3 L192.0 353.2 L194.3 354.5 L196.5 355.2" stroke-width="0.4" opacity="0.7"/><path d="M100.1 356.4 L102.3 356.4 L104.6 356.4 L106.8 356.4 L109.1 356.3 L111.3 356.3 L113.6 356.2 L115.8 356.0 L118.0 355.8 L120.3 355.5 L122.5 355.2 L124.8 354.7 L127.0 354.1 L129.2 353.5 L131.5 352.7 L133.7 351.9 L136.0 350.9 L138.2 349.3 L140.5 346.9 L142.7 343.6 L144.9 339.7 L147.2 336.3 L149.4 334.3 L151.7 333.8 L153.9 334.2 L156.1 334.1 L158.4 333.2 L160.6 331.7 L162.9 330.4 L165.1 330.1 L167.4 331.0 L169.6 332.9 L171.8 335.6 L174.1 338.9 L176.3 342.3 L178.6 345.6 L180.8 348.5 L183.0 350.9 L185.3 352.7 L187.5 354.1 L189.8 355.0 L192.0 355.6 L194.3 356.0 L196.5 356.2" stroke-width="0.4" opacity="0.7"/><path d="M100.1 359.0 L102.3 359.0 L104.6 359.0 L106.8 359.0 L109.1 358.9 L111.3 358.9 L113.6 358.8 L115.8 358.7 L118.0 358.5 L120.3 358.2 L122.5 357.9 L124.8 357.3 L127.0 356.7 L129.2 355.9 L131.5 354.9 L133.7 353.9 L136.0 352.8 L138.2 351.5 L140.5 349.9 L142.7 347.9 L144.9 345.0 L147.2 341.5 L149.4 337.6 L151.7 334.2 L153.9 331.8 L156.1 330.7 L158.4 330.4 L160.6 330.2 L162.9 329.7 L165.1 329.3 L167.4 329.6 L169.6 331.0 L171.8 333.3 L174.1 336.6 L176.3 340.4 L178.6 344.4 L180.8 348.1 L183.0 351.3 L185.3 353.9 L187.5 355.8 L189.8 357.1 L192.0 357.9 L194.3 358.4 L196.5 358.7" stroke-width="0.4" opacity="0.7"/><path d="M100.1 356.7 L102.3 356.7 L104.6 356.7 L106.8 356.6 L109.1 356.6 L111.3 356.6 L113.6 356.6 L115.8 356.5 L118.0 356.3 L120.3 356.2 L122.5 355.9 L124.8 355.5 L127.0 355.0 L129.2 354.5 L131.5 353.8 L133.7 353.1 L136.0 352.3 L138.2 351.5 L140.5 350.6 L142.7 349.1 L144.9 346.4 L147.2 342.1 L149.4 337.1 L151.7 333.2 L153.9 332.1 L156.1 333.4 L158.4 334.8 L160.6 334.7 L162.9 332.7 L165.1 330.0 L167.4 327.8 L169.6 327.0 L171.8 327.9 L174.1 330.3 L176.3 333.8 L178.6 338.0 L180.8 342.3 L183.0 346.2 L185.3 349.5 L187.5 352.1 L189.8 353.9 L192.0 355.1 L194.3 355.8 L196.5 356.2" stroke-width="0.4" opacity="0.7"/><path d="M100.1 357.1 L102.3 357.1 L104.6 357.1 L106.8 357.1 L109.1 357.1 L111.3 357.0 L113.6 357.0 L115.8 356.9 L118.0 356.8 L120.3 356.6 L122.5 356.3 L124.8 355.9 L127.0 355.5 L129.2 354.9 L131.5 354.3 L133.7 353.5 L136.0 352.5 L138.2 351.0 L140.5 348.4 L142.7 344.2 L144.9 339.0 L147.2 334.3 L149.4 332.4 L151.7 334.1 L153.9 337.9 L156.1 341.1 L158.4 341.7 L160.6 339.4 L162.9 335.4 L165.1 331.5 L167.4 329.5 L169.6 329.8 L171.8 331.3 L174.1 333.7 L176.3 336.9 L178.6 340.3 L180.8 343.8 L183.0 347.0 L185.3 349.8 L187.5 352.0 L189.8 353.8 L192.0 355.0 L194.3 355.8 L196.5 356.4" stroke-width="0.4" opacity="0.7"/><path d="M100.1 357.1 L102.3 357.1 L104.6 357.1 L106.8 357.1 L109.1 357.0 L111.3 357.0 L113.6 356.9 L115.8 356.8 L118.0 356.6 L120.3 356.3 L122.5 356.0 L124.8 355.5 L127.0 354.9 L129.2 354.2 L131.5 353.3 L133.7 352.3 L136.0 350.8 L138.2 348.6 L140.5 345.3 L142.7 340.9 L144.9 335.7 L147.2 330.8 L149.4 327.4 L151.7 326.5 L153.9 327.8 L156.1 330.2 L158.4 332.3 L160.6 333.1 L162.9 332.5 L165.1 331.3 L167.4 330.7 L169.6 331.1 L171.8 332.4 L174.1 334.4 L176.3 337.0 L178.6 339.9 L180.8 343.0 L183.0 346.0 L185.3 348.7 L187.5 350.9 L189.8 352.8 L192.0 354.2 L194.3 355.2 L196.5 355.9" stroke-width="0.4" opacity="0.7"/><path d="M100.1 357.8 L102.3 357.8 L104.6 357.8 L106.8 357.8 L109.1 357.8 L111.3 357.7 L113.6 357.6 L115.8 357.5 L118.0 357.4 L120.3 357.1 L122.5 356.8 L124.8 356.4 L127.0 355.9 L129.2 355.3 L131.5 354.6 L133.7 353.9 L136.0 353.1 L138.2 352.3 L140.5 351.4 L142.7 350.4 L144.9 349.2 L147.2 348.1 L149.4 347.3 L151.7 346.9 L153.9 346.9 L156.1 347.1 L158.4 347.1 L160.6 346.9 L162.9 346.3 L165.1 345.9 L167.4 345.8 L169.6 346.3 L171.8 347.0 L174.1 347.9 L176.3 348.9 L178.6 350.1 L180.8 351.4 L183.0 352.6 L185.3 353.7 L187.5 354.7 L189.8 355.5 L192.0 356.2 L194.3 356.7 L196.5 357.0" stroke-width="0.4" opacity="0.7"/><path d="M100.1 356.8 L102.3 356.8 L104.6 356.8 L106.8 356.7 L109.1 356.7 L111.3 356.6 L113.6 356.5 L115.8 356.3 L118.0 356.0 L120.3 355.6 L122.5 355.0 L124.8 354.3 L127.0 353.5 L129.2 352.6 L131.5 351.5 L133.7 350.3 L136.0 348.7 L138.2 346.6 L140.5 343.8 L142.7 340.7 L144.9 338.0 L147.2 336.9 L149.4 337.9 L151.7 340.2 L153.9 342.4 L156.1 343.0 L158.4 341.1 L160.6 337.0 L162.9 332.0 L165.1 328.1 L167.4 326.8 L169.6 327.5 L171.8 329.2 L174.1 331.7 L176.3 334.7 L178.6 338.1 L180.8 341.5 L183.0 344.7 L185.3 347.6 L187.5 350.0 L189.8 352.0 L192.0 353.5 L194.3 354.6 L196.5 355.4" stroke-width="0.4" opacity="0.7"/><path d="M100.1 358.0 L102.3 358.0 L104.6 358.0 L106.8 358.0 L109.1 358.0 L111.3 358.0 L113.6 358.0 L115.8 357.9 L118.0 357.9 L120.3 357.8 L122.5 357.6 L124.8 357.4 L127.0 357.1 L129.2 356.7 L131.5 356.2 L133.7 355.6 L136.0 354.7 L138.2 353.6 L140.5 351.9 L142.7 349.3 L144.9 345.7 L147.2 341.1 L149.4 336.5 L151.7 332.9 L153.9 331.4 L156.1 331.9 L158.4 333.6 L160.6 335.0 L162.9 335.2 L165.1 334.2 L167.4 332.4 L169.6 330.8 L171.8 330.3 L174.1 331.0 L176.3 332.5 L178.6 334.9 L180.8 337.7 L183.0 340.9 L185.3 344.2 L187.5 347.2 L189.8 349.9 L192.0 352.2 L194.3 354.0 L196.5 355.3" stroke-width="0.4" opacity="0.7"/><path d="M100.1 356.4 L102.3 356.4 L104.6 356.4 L106.8 356.4 L109.1 356.4 L111.3 356.3 L113.6 356.3 L115.8 356.2 L118.0 356.1 L120.3 355.9 L122.5 355.6 L124.8 355.2 L127.0 354.7 L129.2 354.0 L131.5 353.2 L133.7 352.1 L136.0 350.5 L138.2 348.2 L140.5 345.0 L142.7 341.1 L144.9 336.8 L147.2 333.1 L149.4 331.0 L151.7 331.0 L153.9 332.7 L156.1 334.6 L158.4 335.2 L160.6 333.4 L162.9 329.3 L165.1 324.4 L167.4 320.8 L169.6 320.4 L171.8 323.0 L174.1 328.2 L176.3 334.6 L178.6 341.1 L180.8 346.6 L183.0 350.7 L185.3 353.4 L187.5 354.9 L189.8 355.8 L192.0 356.1 L194.3 356.3 L196.5 356.4" stroke-width="0.4" opacity="0.7"/><path d="M100.1 357.1 L102.3 357.1 L104.6 357.1 L106.8 357.0 L109.1 357.0 L111.3 357.0 L113.6 357.0 L115.8 356.9 L118.0 356.8 L120.3 356.7 L122.5 356.4 L124.8 356.1 L127.0 355.8 L129.2 355.3 L131.5 354.7 L133.7 354.0 L136.0 353.1 L138.2 352.0 L140.5 350.3 L142.7 347.9 L144.9 344.8 L147.2 341.1 L149.4 337.8 L151.7 335.7 L153.9 335.5 L156.1 337.0 L158.4 339.1 L160.6 340.4 L162.9 339.7 L165.1 336.8 L167.4 332.3 L169.6 327.8 L171.8 325.0 L174.1 324.8 L176.3 326.9 L178.6 330.6 L180.8 335.3 L183.0 340.4 L185.3 345.1 L187.5 349.0 L189.8 352.0 L192.0 354.1 L194.3 355.4 L196.5 356.2" stroke-width="0.4" opacity="0.7"/><path d="M100.1 356.4 L102.3 356.4 L104.6 356.3 L106.8 356.3 L109.1 356.3 L111.3 356.3 L113.6 356.2 L115.8 356.1 L118.0 355.9 L120.3 355.7 L122.5 355.4 L124.8 355.0 L127.0 354.4 L129.2 353.8 L131.5 353.2 L133.7 352.5 L136.0 351.8 L138.2 351.0 L140.5 350.0 L142.7 348.4 L144.9 346.1 L147.2 343.2 L149.4 340.5 L151.7 338.9 L153.9 338.9 L156.1 340.0 L158.4 341.3 L160.6 341.9 L162.9 341.4 L165.1 340.5 L167.4 339.8 L169.6 339.9 L171.8 340.6 L174.1 342.0 L176.3 343.8 L178.6 345.9 L180.8 348.1 L183.0 350.1 L185.3 351.8 L187.5 353.2 L189.8 354.3 L192.0 355.1 L194.3 355.6 L196.5 355.9" stroke-width="0.4" opacity="0.7"/><path d="M100.1 356.3 L102.3 356.3 L104.6 356.3 L106.8 356.3 L109.1 356.3 L111.3 356.3 L113.6 356.2 L115.8 356.2 L118.0 356.1 L120.3 356.0 L122.5 355.8 L124.8 355.5 L127.0 355.1 L129.2 354.6 L131.5 354.0 L133.7 353.2 L136.0 352.4 L138.2 351.6 L140.5 350.7 L142.7 349.4 L144.9 347.5 L147.2 344.5 L149.4 340.2 L151.7 335.4 L153.9 331.7 L156.1 330.3 L158.4 331.0 L160.6 332.2 L162.9 332.2 L165.1 330.2 L167.4 327.0 L169.6 323.9 L171.8 322.3 L174.1 322.8 L176.3 325.3 L178.6 329.2 L180.8 334.0 L183.0 339.0 L185.3 343.7 L187.5 347.7 L189.8 350.7 L192.0 352.9 L194.3 354.4 L196.5 355.3" stroke-width="0.4" opacity="0.7"/><path d="M100.1 359.6 L102.3 359.6 L104.6 359.6 L106.8 359.6 L109.1 359.6 L111.3 359.6 L113.6 359.5 L115.8 359.4 L118.0 359.2 L120.3 359.0 L122.5 358.7 L124.8 358.4 L127.0 357.9 L129.2 357.3 L131.5 356.7 L133.7 356.1 L136.0 355.3 L138.2 354.4 L140.5 352.9 L142.7 350.6 L144.9 347.3 L147.2 343.5 L149.4 340.5 L151.7 339.4 L153.9 340.4 L156.1 342.4 L158.4 343.5 L160.6 342.7 L162.9 339.9 L165.1 336.9 L167.4 335.3 L169.6 335.9 L171.8 337.5 L174.1 339.8 L176.3 342.7 L178.6 345.8 L180.8 348.9 L183.0 351.7 L185.3 354.0 L187.5 355.8 L189.8 357.2 L192.0 358.1 L194.3 358.8 L196.5 359.1" stroke-width="0.4" opacity="0.7"/><path d="M100.1 358.4 L102.3 358.4 L104.6 358.4 L106.8 358.4 L109.1 358.3 L111.3 358.3 L113.6 358.2 L115.8 358.1 L118.0 358.0 L120.3 357.8 L122.5 357.6 L124.8 357.2 L127.0 356.8 L129.2 356.3 L131.5 355.7 L133.7 355.0 L136.0 354.0 L138.2 352.5 L140.5 350.1 L142.7 346.5 L144.9 341.9 L147.2 337.2 L149.4 333.5 L151.7 331.4 L153.9 330.9 L156.1 331.0 L158.4 330.7 L160.6 329.6 L162.9 327.8 L165.1 326.3 L167.4 325.9 L169.6 326.8 L171.8 328.7 L174.1 331.5 L176.3 335.0 L178.6 338.8 L180.8 342.7 L183.0 346.3 L185.3 349.4 L187.5 352.0 L189.8 354.0 L192.0 355.5 L194.3 356.6 L196.5 357.3" stroke-width="0.4" opacity="0.7"/><path d="M100.1 358.3 L102.3 358.3 L104.6 358.3 L106.8 358.3 L109.1 358.3 L111.3 358.2 L113.6 358.1 L115.8 358.0 L118.0 357.9 L120.3 357.7 L122.5 357.4 L124.8 357.1 L127.0 356.7 L129.2 356.2 L131.5 355.6 L133.7 354.7 L136.0 353.5 L138.2 351.8 L140.5 349.7 L142.7 347.4 L144.9 345.6 L147.2 344.8 L149.4 344.9 L151.7 345.4 L153.9 345.6 L156.1 345.0 L158.4 343.4 L160.6 341.6 L162.9 340.3 L165.1 340.1 L167.4 340.6 L169.6 341.7 L171.8 343.2 L174.1 345.0 L176.3 347.0 L178.6 349.0 L180.8 350.9 L183.0 352.6 L185.3 354.1 L187.5 355.3 L189.8 356.2 L192.0 356.9 L194.3 357.4 L196.5 357.7" stroke-width="0.4" opacity="0.7"/><path d="M100.1 356.8 L102.3 356.8 L104.6 356.8 L106.8 356.8 L109.1 356.8 L111.3 356.8 L113.6 356.7 L115.8 356.7 L118.0 356.6 L120.3 356.5 L122.5 356.3 L124.8 356.1 L127.0 355.8 L129.2 355.4 L131.5 354.9 L133.7 354.4 L136.0 353.8 L138.2 353.1 L140.5 352.5 L142.7 351.6 L144.9 350.3 L147.2 348.4 L149.4 345.9 L151.7 343.4 L153.9 341.8 L156.1 341.8 L158.4 343.2 L160.6 345.0 L162.9 345.9 L165.1 345.5 L167.4 343.9 L169.6 341.7 L171.8 339.9 L174.1 339.1 L176.3 339.5 L178.6 340.5 L180.8 342.1 L183.0 344.2 L185.3 346.4 L187.5 348.6 L189.8 350.6 L192.0 352.3 L194.3 353.7 L196.5 354.7" stroke-width="0.4" opacity="0.7"/><path d="M100.1 358.1 L102.3 358.1 L104.6 358.1 L106.8 358.1 L109.1 358.1 L111.3 358.1 L113.6 358.0 L115.8 358.0 L118.0 358.0 L120.3 357.9 L122.5 357.8 L124.8 357.6 L127.0 357.4 L129.2 357.1 L131.5 356.8 L133.7 356.4 L136.0 355.9 L138.2 355.3 L140.5 354.4 L142.7 353.2 L144.9 351.2 L147.2 348.5 L149.4 345.2 L151.7 342.0 L153.9 339.6 L156.1 338.6 L158.4 338.6 L160.6 338.7 L162.9 337.5 L165.1 334.5 L167.4 330.3 L169.6 326.8 L171.8 325.9 L174.1 327.2 L176.3 329.8 L178.6 333.3 L180.8 337.4 L183.0 341.7 L185.3 345.8 L187.5 349.3 L189.8 352.1 L192.0 354.2 L194.3 355.7 L196.5 356.7" stroke-width="0.4" opacity="0.7"/><path d="M100.1 357.0 L102.3 357.0 L104.6 357.0 L106.8 357.0 L109.1 357.0 L111.3 357.0 L113.6 356.9 L115.8 356.8 L118.0 356.7 L120.3 356.5 L122.5 356.2 L124.8 355.9 L127.0 355.5 L129.2 354.9 L131.5 354.4 L133.7 353.7 L136.0 353.1 L138.2 352.3 L140.5 351.3 L142.7 349.7 L144.9 347.1 L147.2 343.5 L149.4 339.3 L151.7 335.5 L153.9 333.1 L156.1 332.7 L158.4 333.4 L160.6 334.3 L162.9 334.5 L165.1 334.1 L167.4 333.8 L169.6 334.2 L171.8 335.4 L174.1 337.2 L176.3 339.6 L178.6 342.3 L180.8 345.1 L183.0 347.8 L185.3 350.2 L187.5 352.2 L189.8 353.7 L192.0 354.9 L194.3 355.7 L196.5 356.2" stroke-width="0.4" opacity="0.7"/><path d="M100.1 357.3 L102.3 357.3 L104.6 357.3 L106.8 357.3 L109.1 357.3 L111.3 357.2 L113.6 357.2 L115.8 357.1 L118.0 356.9 L120.3 356.7 L122.5 356.4 L124.8 356.0 L127.0 355.4 L129.2 354.8 L131.5 354.0 L133.7 353.2 L136.0 352.1 L138.2 350.8 L140.5 349.1 L142.7 346.9 L144.9 344.5 L147.2 342.6 L149.4 341.8 L151.7 342.4 L153.9 343.7 L156.1 344.9 L158.4 344.9 L160.6 343.3 L162.9 340.6 L165.1 337.6 L167.4 335.4 L169.6 334.9 L171.8 335.6 L174.1 337.0 L176.3 339.0 L178.6 341.4 L180.8 344.0 L183.0 346.6 L185.3 349.0 L187.5 351.1 L189.8 352.9 L192.0 354.2 L194.3 355.3 L196.5 356.0" stroke-width="0.4" opacity="0.7"/><path d="M100.1 356.9 L102.3 356.9 L104.6 356.9 L106.8 356.8 L109.1 356.8 L111.3 356.8 L113.6 356.7 L115.8 356.6 L118.0 356.4 L120.3 356.2 L122.5 355.8 L124.8 355.4 L127.0 354.8 L129.2 354.0 L131.5 353.2 L133.7 352.2 L136.0 351.0 L138.2 349.5 L140.5 347.3 L142.7 344.3 L144.9 340.5 L147.2 336.6 L149.4 333.7 L151.7 332.7 L153.9 333.6 L156.1 335.5 L158.4 337.1 L160.6 337.4 L162.9 336.3 L165.1 334.4 L167.4 332.6 L169.6 331.6 L171.8 331.8 L174.1 333.0 L176.3 335.1 L178.6 337.7 L180.8 340.8 L183.0 343.9 L185.3 346.8 L187.5 349.4 L189.8 351.6 L192.0 353.3 L194.3 354.5 L196.5 355.4" stroke-width="0.4" opacity="0.7"/><path d="M100.1 356.0 L102.3 356.0 L104.6 356.0 L106.8 356.0 L109.1 355.9 L111.3 355.9 L113.6 355.9 L115.8 355.8 L118.0 355.6 L120.3 355.4 L122.5 355.1 L124.8 354.7 L127.0 354.3 L129.2 353.7 L131.5 353.0 L133.7 352.2 L136.0 351.2 L138.2 349.9 L140.5 348.2 L142.7 345.7 L144.9 342.5 L147.2 338.9 L149.4 335.6 L151.7 333.4 L153.9 332.9 L156.1 333.5 L158.4 334.4 L160.6 334.5 L162.9 333.4 L165.1 331.8 L167.4 330.9 L169.6 331.6 L171.8 333.2 L174.1 335.4 L176.3 338.2 L178.6 341.3 L180.8 344.4 L183.0 347.3 L185.3 349.7 L187.5 351.7 L189.8 353.2 L192.0 354.3 L194.3 355.0 L196.5 355.4" stroke-width="0.4" opacity="0.7"/><path d="M100.1 356.6 L102.3 356.6 L104.6 356.6 L106.8 356.6 L109.1 356.6 L111.3 356.5 L113.6 356.5 L115.8 356.4 L118.0 356.3 L120.3 356.1 L122.5 355.9 L124.8 355.5 L127.0 355.1 L129.2 354.5 L131.5 353.8 L133.7 353.0 L136.0 352.0 L138.2 350.8 L140.5 348.9 L142.7 346.4 L144.9 343.1 L147.2 339.5 L149.4 336.5 L151.7 335.1 L153.9 335.6 L156.1 337.4 L158.4 339.1 L160.6 339.6 L162.9 338.6 L165.1 337.3 L167.4 337.1 L169.6 338.2 L171.8 339.5 L174.1 341.2 L176.3 343.2 L178.6 345.3 L180.8 347.4 L183.0 349.4 L185.3 351.2 L187.5 352.7 L189.8 353.9 L192.0 354.8 L194.3 355.4 L196.5 355.9" stroke-width="0.4" opacity="0.7"/><path d="M100.1 358.4 L102.3 358.4 L104.6 358.4 L106.8 358.4 L109.1 358.4 L111.3 358.4 L113.6 358.3 L115.8 358.2 L118.0 358.1 L120.3 357.9 L122.5 357.6 L124.8 357.3 L127.0 356.8 L129.2 356.2 L131.5 355.6 L133.7 354.9 L136.0 354.0 L138.2 352.8 L140.5 350.9 L142.7 348.3 L144.9 344.7 L147.2 340.6 L149.4 336.9 L151.7 334.6 L153.9 334.0 L156.1 334.7 L158.4 335.3 L160.6 335.2 L162.9 334.1 L165.1 332.6 L167.4 331.8 L169.6 332.1 L171.8 333.1 L174.1 334.9 L176.3 337.2 L178.6 339.9 L180.8 342.8 L183.0 345.7 L185.3 348.4 L187.5 350.8 L189.8 352.8 L192.0 354.4 L194.3 355.7 L196.5 356.6" stroke-width="0.4" opacity="0.7"/><path d="M100.1 357.1 L102.3 357.1 L104.6 357.1 L106.8 357.1 L109.1 357.1 L111.3 357.1 L113.6 357.0 L115.8 356.9 L118.0 356.8 L120.3 356.6 L122.5 356.4 L124.8 356.0 L127.0 355.6 L129.2 355.1 L131.5 354.5 L133.7 353.8 L136.0 353.0 L138.2 352.1 L140.5 350.7 L142.7 348.5 L144.9 345.2 L147.2 341.5 L149.4 338.3 L151.7 337.2 L153.9 338.2 L156.1 340.4 L158.4 341.9 L160.6 341.5 L162.9 339.2 L165.1 335.9 L167.4 333.1 L169.6 331.8 L171.8 332.5 L174.1 334.6 L176.3 337.7 L178.6 341.3 L180.8 345.1 L183.0 348.5 L185.3 351.3 L187.5 353.5 L189.8 354.9 L192.0 355.9 L194.3 356.5 L196.5 356.8" stroke-width="0.4" opacity="0.7"/><path d="M100.1 356.5 L102.3 356.5 L104.6 356.5 L106.8 356.5 L109.1 356.5 L111.3 356.5 L113.6 356.4 L115.8 356.3 L118.0 356.1 L120.3 355.9 L122.5 355.6 L124.8 355.1 L127.0 354.5 L129.2 353.7 L131.5 352.8 L133.7 351.7 L136.0 350.6 L138.2 349.3 L140.5 347.8 L142.7 346.0 L144.9 343.6 L147.2 340.7 L149.4 337.4 L151.7 334.2 L153.9 331.3 L156.1 329.1 L158.4 327.4 L160.6 325.6 L162.9 323.5 L165.1 321.1 L167.4 319.2 L169.6 318.6 L171.8 320.0 L174.1 323.1 L176.3 327.5 L178.6 332.9 L180.8 338.4 L183.0 343.5 L185.3 347.7 L187.5 350.9 L189.8 353.2 L192.0 354.7 L194.3 355.6 L196.5 356.1" stroke-width="0.4" opacity="0.7"/><path d="M100.1 357.4 L102.3 357.4 L104.6 357.3 L106.8 357.3 L109.1 357.3 L111.3 357.3 L113.6 357.2 L115.8 357.1 L118.0 357.0 L120.3 356.8 L122.5 356.5 L124.8 356.2 L127.0 355.7 L129.2 355.2 L131.5 354.5 L133.7 353.8 L136.0 352.7 L138.2 351.1 L140.5 348.6 L142.7 345.1 L144.9 340.5 L147.2 335.7 L149.4 331.6 L151.7 329.0 L153.9 327.9 L156.1 327.5 L158.4 326.9 L160.6 325.3 L162.9 323.1 L165.1 321.0 L167.4 320.0 L169.6 320.7 L171.8 323.4 L174.1 327.8 L176.3 333.1 L178.6 338.7 L180.8 343.9 L183.0 348.2 L185.3 351.5 L187.5 353.9 L189.8 355.4 L192.0 356.3 L194.3 356.8 L196.5 357.1" stroke-width="0.4" opacity="0.7"/><path d="M100.1 355.0 L102.3 355.0 L104.6 355.0 L106.8 355.0 L109.1 355.0 L111.3 355.0 L113.6 354.9 L115.8 354.9 L118.0 354.8 L120.3 354.7 L122.5 354.4 L124.8 354.2 L127.0 353.8 L129.2 353.3 L131.5 352.7 L133.7 352.1 L136.0 351.4 L138.2 350.7 L140.5 349.9 L142.7 348.7 L144.9 346.8 L147.2 343.6 L149.4 339.0 L151.7 333.6 L153.9 328.9 L156.1 326.3 L158.4 326.2 L160.6 327.6 L162.9 328.9 L165.1 329.4 L167.4 329.1 L169.6 329.2 L171.8 330.1 L174.1 331.6 L176.3 333.7 L178.6 336.3 L180.8 339.2 L183.0 342.1 L185.3 344.9 L187.5 347.4 L189.8 349.5 L192.0 351.2 L194.3 352.4 L196.5 353.4" stroke-width="0.4" opacity="0.7"/><path d="M100.1 356.2 L102.3 356.2 L104.6 356.2 L106.8 356.2 L109.1 356.1 L111.3 356.0 L113.6 355.9 L115.8 355.7 L118.0 355.4 L120.3 355.0 L122.5 354.5 L124.8 353.8 L127.0 353.1 L129.2 352.3 L131.5 351.4 L133.7 350.4 L136.0 349.2 L138.2 347.7 L140.5 345.7 L142.7 343.6 L144.9 342.0 L147.2 341.5 L149.4 342.3 L151.7 343.7 L153.9 344.8 L156.1 344.7 L158.4 343.4 L160.6 341.3 L162.9 338.9 L165.1 337.1 L167.4 336.3 L169.6 336.7 L171.8 337.8 L174.1 339.6 L176.3 341.9 L178.6 344.3 L180.8 346.8 L183.0 349.1 L185.3 351.1 L187.5 352.6 L189.8 353.8 L192.0 354.7 L194.3 355.3 L196.5 355.7" stroke-width="0.4" opacity="0.7"/><path d="M100.1 355.1 L102.3 355.1 L104.6 355.1 L106.8 355.1 L109.1 355.1 L111.3 355.1 L113.6 355.0 L115.8 355.0 L118.0 354.9 L120.3 354.7 L122.5 354.5 L124.8 354.2 L127.0 353.8 L129.2 353.3 L131.5 352.7 L133.7 352.0 L136.0 351.3 L138.2 350.6 L140.5 349.6 L142.7 348.1 L144.9 345.7 L147.2 342.2 L149.4 337.9 L151.7 334.0 L153.9 331.5 L156.1 330.9 L158.4 331.2 L160.6 330.8 L162.9 329.0 L165.1 326.0 L167.4 323.3 L169.6 322.4 L171.8 323.6 L174.1 326.3 L176.3 330.2 L178.6 334.7 L180.8 339.4 L183.0 343.7 L185.3 347.2 L187.5 350.0 L189.8 352.0 L192.0 353.3 L194.3 354.1 L196.5 354.6" stroke-width="0.4" opacity="0.7"/><path d="M100.1 356.4 L102.3 356.4 L104.6 356.4 L106.8 356.4 L109.1 356.3 L111.3 356.3 L113.6 356.3 L115.8 356.2 L118.0 356.0 L120.3 355.8 L122.5 355.5 L124.8 355.1 L127.0 354.6 L129.2 354.0 L131.5 353.3 L133.7 352.3 L136.0 351.2 L138.2 349.5 L140.5 347.1 L142.7 343.8 L144.9 339.6 L147.2 335.0 L149.4 331.2 L151.7 329.2 L153.9 329.4 L156.1 331.0 L158.4 332.7 L160.6 333.1 L162.9 331.5 L165.1 328.7 L167.4 326.0 L169.6 324.9 L171.8 325.8 L174.1 327.7 L176.3 330.6 L178.6 334.1 L180.8 338.0 L183.0 341.9 L185.3 345.4 L187.5 348.4 L189.8 350.9 L192.0 352.7 L194.3 354.1 L196.5 355.0" stroke-width="0.4" opacity="0.7"/><path d="M100.1 357.0 L102.3 357.0 L104.6 357.0 L106.8 357.0 L109.1 357.0 L111.3 356.9 L113.6 356.9 L115.8 356.8 L118.0 356.7 L120.3 356.4 L122.5 356.1 L124.8 355.7 L127.0 355.2 L129.2 354.5 L131.5 353.8 L133.7 352.9 L136.0 351.8 L138.2 350.6 L140.5 348.8 L142.7 346.5 L144.9 343.6 L147.2 340.3 L149.4 337.5 L151.7 335.7 L153.9 335.2 L156.1 335.5 L158.4 335.8 L160.6 335.3 L162.9 333.7 L165.1 331.6 L167.4 330.1 L169.6 330.0 L171.8 331.4 L174.1 334.3 L176.3 338.2 L178.6 342.4 L180.8 346.4 L183.0 349.8 L185.3 352.5 L187.5 354.3 L189.8 355.5 L192.0 356.3 L194.3 356.6 L196.5 356.8" stroke-width="0.4" opacity="0.7"/></g><rect x="100.1" y="308.1" width="96.4" height="55.099999999999966" fill="none" stroke="#111" stroke-width="0.8"/><path d="M107.3 363.2v-1" stroke="#111" stroke-width="0.3"/><text x="107.3" y="368.8" text-anchor="middle" font-size="4" fill="#222">40</text><path d="M124.5 363.2v-1" stroke="#111" stroke-width="0.3"/><text x="124.5" y="368.8" text-anchor="middle" font-size="4" fill="#222">50</text><path d="M141.8 363.2v-1" stroke="#111" stroke-width="0.3"/><text x="141.8" y="368.8" text-anchor="middle" font-size="4" fill="#222">60</text><path d="M159.0 363.2v-1" stroke="#111" stroke-width="0.3"/><text x="159.0" y="368.8" text-anchor="middle" font-size="4" fill="#222">70</text><path d="M176.3 363.2v-1" stroke="#111" stroke-width="0.3"/><text x="176.3" y="368.8" text-anchor="middle" font-size="4" fill="#222">80</text><path d="M193.5 363.2v-1" stroke="#111" stroke-width="0.3"/><text x="193.5" y="368.8" text-anchor="middle" font-size="4" fill="#222">90</text><text x="149.3" y="374" text-anchor="middle" font-size="4" fill="#222">T, °C</text><clipPath id="mc12"><rect x="202.7" y="308.1" width="91.30000000000001" height="55.099999999999966"/></clipPath><g clip-path="url(#mc12)" fill="none" stroke="#7d7d00" stroke-linejoin="round"><path d="M202.7 354.0 L204.8 354.0 L206.9 354.0 L209.1 354.0 L211.2 353.9 L213.3 353.8 L215.4 353.6 L217.6 353.5 L219.7 353.4 L221.8 353.1 L223.9 352.7 L226.1 352.1 L228.2 351.4 L230.3 350.7 L232.4 349.7 L234.5 348.6 L236.7 347.3 L238.8 345.6 L240.9 343.9 L243.0 342.3 L245.2 341.3 L247.3 340.0 L249.4 338.1 L251.5 337.1 L253.7 338.2 L255.8 339.4 L257.9 340.1 L260.0 340.0 L262.2 338.8 L264.3 336.3 L266.4 334.6 L268.5 334.0 L270.6 333.6 L272.8 333.7 L274.9 333.9 L277.0 334.7 L279.1 336.4 L281.3 338.9 L283.4 340.9 L285.5 342.9 L287.6 344.8 L289.8 347.3 L291.9 349.0 L294.0 350.3 L294.0 356.2 L291.9 355.8 L289.8 355.1 L287.6 354.0 L285.5 352.7 L283.4 350.9 L281.3 349.4 L279.1 348.5 L277.0 347.2 L274.9 346.0 L272.8 345.2 L270.6 345.7 L268.5 346.1 L266.4 347.2 L264.3 348.4 L262.2 349.0 L260.0 349.7 L257.9 349.6 L255.8 349.2 L253.7 348.4 L251.5 347.5 L249.4 347.1 L247.3 348.6 L245.2 350.5 L243.0 351.8 L240.9 352.6 L238.8 353.5 L236.7 354.3 L234.5 355.0 L232.4 355.6 L230.3 356.2 L228.2 356.5 L226.1 356.8 L223.9 357.1 L221.8 357.4 L219.7 357.5 L217.6 357.7 L215.4 357.7 L213.3 357.8 L211.2 357.8 L209.1 357.9 L206.9 357.9 L204.8 357.9 L202.7 357.9Z" fill="#7d7d00" stroke="none" opacity="0.8"/><path d="M202.7 357.1 L204.8 357.1 L206.9 357.1 L209.1 357.1 L211.2 357.1 L213.3 357.1 L215.4 357.0 L217.6 357.0 L219.7 356.9 L221.8 356.8 L223.9 356.6 L226.1 356.4 L228.2 356.1 L230.3 355.7 L232.4 355.3 L234.5 354.9 L236.7 354.3 L238.8 353.6 L240.9 352.5 L243.0 350.9 L245.2 349.0 L247.3 347.3 L249.4 346.5 L251.5 346.9 L253.7 348.2 L255.8 349.5 L257.9 350.0 L260.0 349.4 L262.2 347.6 L264.3 345.1 L266.4 342.2 L268.5 339.5 L270.6 337.6 L272.8 336.7 L274.9 336.9 L277.0 337.4 L279.1 338.3 L281.3 339.5 L283.4 340.9 L285.5 342.5 L287.6 344.2 L289.8 345.9 L291.9 347.6 L294.0 349.2" stroke-width="0.4" opacity="0.7"/><path d="M202.7 355.9 L204.8 355.9 L206.9 355.9 L209.1 355.9 L211.2 355.8 L213.3 355.7 L215.4 355.6 L217.6 355.4 L219.7 355.1 L221.8 354.8 L223.9 354.2 L226.1 353.6 L228.2 352.8 L230.3 351.9 L232.4 350.8 L234.5 349.7 L236.7 348.6 L238.8 347.5 L240.9 346.2 L243.0 344.5 L245.2 341.9 L247.3 338.7 L249.4 336.2 L251.5 335.5 L253.7 336.8 L255.8 339.0 L257.9 340.7 L260.0 341.2 L262.2 340.8 L264.3 340.1 L266.4 339.5 L268.5 339.2 L270.6 339.5 L272.8 340.2 L274.9 341.3 L277.0 342.6 L279.1 344.2 L281.3 345.9 L283.4 347.6 L285.5 349.3 L287.6 350.7 L289.8 352.0 L291.9 353.0 L294.0 353.9" stroke-width="0.4" opacity="0.7"/><path d="M202.7 355.8 L204.8 355.8 L206.9 355.8 L209.1 355.8 L211.2 355.7 L213.3 355.7 L215.4 355.6 L217.6 355.5 L219.7 355.4 L221.8 355.2 L223.9 355.0 L226.1 354.7 L228.2 354.4 L230.3 354.0 L232.4 353.5 L234.5 352.7 L236.7 351.3 L238.8 349.1 L240.9 346.3 L243.0 343.8 L245.2 342.9 L247.3 343.5 L249.4 344.9 L251.5 345.8 L253.7 345.5 L255.8 344.1 L257.9 342.2 L260.0 340.4 L262.2 339.1 L264.3 338.8 L266.4 339.3 L268.5 340.2 L270.6 341.6 L272.8 343.3 L274.9 345.2 L277.0 347.1 L279.1 348.9 L281.3 350.5 L283.4 351.9 L285.5 353.0 L287.6 353.9 L289.8 354.5 L291.9 355.0 L294.0 355.3" stroke-width="0.4" opacity="0.7"/><path d="M202.7 355.6 L204.8 355.6 L206.9 355.6 L209.1 355.6 L211.2 355.6 L213.3 355.5 L215.4 355.4 L217.6 355.3 L219.7 355.1 L221.8 354.9 L223.9 354.5 L226.1 354.1 L228.2 353.6 L230.3 353.1 L232.4 352.5 L234.5 351.9 L236.7 351.2 L238.8 350.4 L240.9 349.2 L243.0 347.6 L245.2 345.8 L247.3 344.4 L249.4 344.0 L251.5 344.6 L253.7 345.6 L255.8 346.0 L257.9 345.6 L260.0 344.3 L262.2 342.7 L264.3 341.1 L266.4 339.9 L268.5 339.4 L270.6 339.7 L272.8 340.3 L274.9 341.2 L277.0 342.4 L279.1 343.8 L281.3 345.4 L283.4 346.9 L285.5 348.4 L287.6 349.8 L289.8 351.1 L291.9 352.1 L294.0 353.0" stroke-width="0.4" opacity="0.7"/><path d="M202.7 354.5 L204.8 354.4 L206.9 354.3 L209.1 354.2 L211.2 354.0 L213.3 353.7 L215.4 353.3 L217.6 352.7 L219.7 352.0 L221.8 351.1 L223.9 350.0 L226.1 348.8 L228.2 347.6 L230.3 346.2 L232.4 344.8 L234.5 343.4 L236.7 341.9 L238.8 340.4 L240.9 339.2 L243.0 338.7 L245.2 339.2 L247.3 340.5 L249.4 342.3 L251.5 343.7 L253.7 344.4 L255.8 344.0 L257.9 342.8 L260.0 341.2 L262.2 339.6 L264.3 338.5 L266.4 338.4 L268.5 338.9 L270.6 339.6 L272.8 340.5 L274.9 341.6 L277.0 342.9 L279.1 344.3 L281.3 345.7 L283.4 347.1 L285.5 348.4 L287.6 349.6 L289.8 350.7 L291.9 351.5 L294.0 352.3" stroke-width="0.4" opacity="0.7"/><path d="M202.7 355.8 L204.8 355.8 L206.9 355.8 L209.1 355.7 L211.2 355.7 L213.3 355.6 L215.4 355.5 L217.6 355.4 L219.7 355.2 L221.8 354.9 L223.9 354.5 L226.1 354.0 L228.2 353.4 L230.3 352.7 L232.4 351.9 L234.5 351.1 L236.7 350.3 L238.8 349.4 L240.9 348.2 L243.0 346.8 L245.2 344.9 L247.3 343.0 L249.4 341.6 L251.5 341.4 L253.7 342.4 L255.8 343.8 L257.9 344.8 L260.0 345.0 L262.2 344.4 L264.3 343.2 L266.4 342.0 L268.5 340.9 L270.6 340.3 L272.8 340.3 L274.9 340.8 L277.0 341.6 L279.1 342.9 L281.3 344.3 L283.4 345.9 L285.5 347.5 L287.6 349.1 L289.8 350.5 L291.9 351.8 L294.0 352.8" stroke-width="0.4" opacity="0.7"/><path d="M202.7 356.9 L204.8 356.9 L206.9 356.9 L209.1 356.9 L211.2 356.8 L213.3 356.8 L215.4 356.7 L217.6 356.6 L219.7 356.5 L221.8 356.3 L223.9 356.0 L226.1 355.6 L228.2 355.2 L230.3 354.7 L232.4 354.1 L234.5 353.5 L236.7 353.0 L238.8 352.4 L240.9 351.8 L243.0 350.9 L245.2 349.5 L247.3 347.9 L249.4 346.7 L251.5 347.0 L253.7 348.4 L255.8 350.0 L257.9 351.0 L260.0 351.2 L262.2 350.9 L264.3 350.3 L266.4 349.6 L268.5 349.0 L270.6 348.5 L272.8 348.2 L274.9 348.2 L277.0 348.4 L279.1 348.8 L281.3 349.4 L283.4 350.1 L285.5 350.8 L287.6 351.6 L289.8 352.4 L291.9 353.2 L294.0 353.9" stroke-width="0.4" opacity="0.7"/><path d="M202.7 355.9 L204.8 355.9 L206.9 355.9 L209.1 355.8 L211.2 355.8 L213.3 355.7 L215.4 355.6 L217.6 355.5 L219.7 355.3 L221.8 355.0 L223.9 354.6 L226.1 354.2 L228.2 353.7 L230.3 353.1 L232.4 352.4 L234.5 351.5 L236.7 350.4 L238.8 349.1 L240.9 347.7 L243.0 346.5 L245.2 345.8 L247.3 345.8 L249.4 346.5 L251.5 347.5 L253.7 348.4 L255.8 348.6 L257.9 347.9 L260.0 346.6 L262.2 344.7 L264.3 342.8 L266.4 341.4 L268.5 340.8 L270.6 341.1 L272.8 342.3 L274.9 344.2 L277.0 346.4 L279.1 348.6 L281.3 350.7 L283.4 352.4 L285.5 353.7 L287.6 354.6 L289.8 355.2 L291.9 355.5 L294.0 355.7" stroke-width="0.4" opacity="0.7"/><path d="M202.7 357.0 L204.8 357.0 L206.9 357.0 L209.1 357.0 L211.2 356.9 L213.3 356.9 L215.4 356.8 L217.6 356.7 L219.7 356.5 L221.8 356.3 L223.9 356.0 L226.1 355.7 L228.2 355.2 L230.3 354.7 L232.4 354.2 L234.5 353.7 L236.7 353.1 L238.8 352.4 L240.9 351.5 L243.0 350.1 L245.2 348.1 L247.3 346.1 L249.4 345.1 L251.5 345.4 L253.7 346.7 L255.8 347.8 L257.9 348.0 L260.0 347.4 L262.2 346.1 L264.3 344.8 L266.4 343.6 L268.5 342.7 L270.6 342.5 L272.8 342.8 L274.9 343.8 L277.0 345.4 L279.1 347.2 L281.3 349.2 L283.4 351.1 L285.5 352.8 L287.6 354.1 L289.8 355.1 L291.9 355.8 L294.0 356.3" stroke-width="0.4" opacity="0.7"/><path d="M202.7 357.2 L204.8 357.1 L206.9 357.1 L209.1 357.1 L211.2 357.1 L213.3 357.0 L215.4 356.9 L217.6 356.8 L219.7 356.6 L221.8 356.3 L223.9 355.9 L226.1 355.4 L228.2 354.9 L230.3 354.2 L232.4 353.4 L234.5 352.6 L236.7 351.8 L238.8 351.0 L240.9 350.0 L243.0 348.7 L245.2 347.1 L247.3 345.6 L249.4 345.0 L251.5 345.7 L253.7 347.1 L255.8 348.3 L257.9 348.5 L260.0 347.7 L262.2 346.3 L264.3 344.6 L266.4 343.0 L268.5 342.0 L270.6 341.8 L272.8 342.2 L274.9 342.7 L277.0 343.5 L279.1 344.4 L281.3 345.5 L283.4 346.7 L285.5 347.9 L287.6 349.1 L289.8 350.3 L291.9 351.5 L294.0 352.5" stroke-width="0.4" opacity="0.7"/><path d="M202.7 353.7 L204.8 353.7 L206.9 353.7 L209.1 353.6 L211.2 353.6 L213.3 353.5 L215.4 353.4 L217.6 353.3 L219.7 353.1 L221.8 352.8 L223.9 352.3 L226.1 351.8 L228.2 351.0 L230.3 350.2 L232.4 349.2 L234.5 348.1 L236.7 346.8 L238.8 345.3 L240.9 343.4 L243.0 341.2 L245.2 338.9 L247.3 336.9 L249.4 335.9 L251.5 335.9 L253.7 336.8 L255.8 337.6 L257.9 337.4 L260.0 335.7 L262.2 332.7 L264.3 329.0 L266.4 325.7 L268.5 323.7 L270.6 323.7 L272.8 325.1 L274.9 327.7 L277.0 331.1 L279.1 335.0 L281.3 339.0 L283.4 342.7 L285.5 345.8 L287.6 348.3 L289.8 350.2 L291.9 351.5 L294.0 352.4" stroke-width="0.4" opacity="0.7"/><path d="M202.7 357.7 L204.8 357.7 L206.9 357.7 L209.1 357.7 L211.2 357.7 L213.3 357.6 L215.4 357.6 L217.6 357.5 L219.7 357.3 L221.8 357.1 L223.9 356.9 L226.1 356.5 L228.2 356.0 L230.3 355.5 L232.4 354.9 L234.5 354.2 L236.7 353.5 L238.8 352.6 L240.9 351.2 L243.0 349.2 L245.2 346.2 L247.3 343.0 L249.4 340.7 L251.5 340.2 L253.7 341.2 L255.8 342.2 L257.9 342.2 L260.0 341.0 L262.2 338.9 L264.3 336.7 L266.4 334.9 L268.5 334.1 L270.6 334.4 L272.8 335.8 L274.9 338.2 L277.0 341.2 L279.1 344.4 L281.3 347.6 L283.4 350.4 L285.5 352.7 L287.6 354.5 L289.8 355.7 L291.9 356.6 L294.0 357.1" stroke-width="0.4" opacity="0.7"/><path d="M202.7 360.4 L204.8 360.4 L206.9 360.4 L209.1 360.4 L211.2 360.4 L213.3 360.3 L215.4 360.3 L217.6 360.2 L219.7 360.1 L221.8 360.0 L223.9 359.8 L226.1 359.5 L228.2 359.1 L230.3 358.6 L232.4 357.9 L234.5 357.2 L236.7 356.3 L238.8 355.3 L240.9 353.9 L243.0 352.1 L245.2 349.7 L247.3 347.0 L249.4 344.4 L251.5 342.6 L253.7 342.2 L255.8 343.1 L257.9 344.5 L260.0 345.6 L262.2 345.9 L264.3 345.4 L266.4 344.3 L268.5 343.0 L270.6 341.9 L272.8 341.4 L274.9 341.6 L277.0 342.2 L279.1 343.4 L281.3 344.9 L283.4 346.7 L285.5 348.7 L287.6 350.7 L289.8 352.6 L291.9 354.3 L294.0 355.8" stroke-width="0.4" opacity="0.7"/><path d="M202.7 357.1 L204.8 357.1 L206.9 357.0 L209.1 357.0 L211.2 357.0 L213.3 357.0 L215.4 356.9 L217.6 356.8 L219.7 356.7 L221.8 356.5 L223.9 356.2 L226.1 355.8 L228.2 355.3 L230.3 354.6 L232.4 353.9 L234.5 353.0 L236.7 352.1 L238.8 351.1 L240.9 350.2 L243.0 349.2 L245.2 347.7 L247.3 345.3 L249.4 341.9 L251.5 339.1 L253.7 338.6 L255.8 340.4 L257.9 342.5 L260.0 343.4 L262.2 342.6 L264.3 340.8 L266.4 338.7 L268.5 336.9 L270.6 335.7 L272.8 335.5 L274.9 336.3 L277.0 337.7 L279.1 339.8 L281.3 342.2 L283.4 344.8 L285.5 347.4 L287.6 349.7 L289.8 351.7 L291.9 353.3 L294.0 354.6" stroke-width="0.4" opacity="0.7"/><path d="M202.7 358.0 L204.8 358.0 L206.9 357.9 L209.1 357.9 L211.2 357.8 L213.3 357.7 L215.4 357.6 L217.6 357.4 L219.7 357.1 L221.8 356.6 L223.9 356.1 L226.1 355.5 L228.2 354.7 L230.3 353.9 L232.4 353.0 L234.5 352.1 L236.7 351.3 L238.8 350.7 L240.9 349.9 L243.0 348.8 L245.2 347.1 L247.3 345.4 L249.4 345.1 L251.5 346.5 L253.7 348.2 L255.8 349.0 L257.9 348.7 L260.0 347.8 L262.2 346.6 L264.3 345.5 L266.4 344.5 L268.5 344.0 L270.6 344.0 L272.8 344.7 L274.9 346.1 L277.0 348.0 L279.1 350.0 L281.3 352.1 L283.4 353.8 L285.5 355.2 L287.6 356.3 L289.8 357.0 L291.9 357.4 L294.0 357.7" stroke-width="0.4" opacity="0.7"/><path d="M202.7 357.9 L204.8 357.9 L206.9 357.9 L209.1 357.9 L211.2 357.9 L213.3 357.8 L215.4 357.8 L217.6 357.7 L219.7 357.5 L221.8 357.3 L223.9 357.1 L226.1 356.7 L228.2 356.3 L230.3 355.8 L232.4 355.2 L234.5 354.5 L236.7 353.7 L238.8 352.4 L240.9 350.4 L243.0 347.6 L245.2 344.6 L247.3 342.4 L249.4 342.0 L251.5 343.4 L253.7 345.6 L255.8 347.3 L257.9 347.9 L260.0 347.2 L262.2 345.6 L264.3 343.5 L266.4 341.4 L268.5 339.6 L270.6 338.3 L272.8 337.8 L274.9 338.1 L277.0 339.0 L279.1 340.6 L281.3 342.5 L283.4 344.8 L285.5 347.1 L287.6 349.3 L289.8 351.3 L291.9 353.0 L294.0 354.4" stroke-width="0.4" opacity="0.7"/><path d="M202.7 355.2 L204.8 355.2 L206.9 355.2 L209.1 355.2 L211.2 355.1 L213.3 355.1 L215.4 355.0 L217.6 354.9 L219.7 354.7 L221.8 354.4 L223.9 354.1 L226.1 353.7 L228.2 353.2 L230.3 352.7 L232.4 352.1 L234.5 351.5 L236.7 350.7 L238.8 349.7 L240.9 348.2 L243.0 346.5 L245.2 344.8 L247.3 343.9 L249.4 344.3 L251.5 345.8 L253.7 347.7 L255.8 349.0 L257.9 349.3 L260.0 348.6 L262.2 347.1 L264.3 345.1 L266.4 343.1 L268.5 341.6 L270.6 340.8 L272.8 341.0 L274.9 341.7 L277.0 342.8 L279.1 344.3 L281.3 345.9 L283.4 347.6 L285.5 349.3 L287.6 350.7 L289.8 351.9 L291.9 352.9 L294.0 353.7" stroke-width="0.4" opacity="0.7"/><path d="M202.7 355.5 L204.8 355.5 L206.9 355.5 L209.1 355.4 L211.2 355.4 L213.3 355.2 L215.4 355.1 L217.6 354.8 L219.7 354.5 L221.8 354.1 L223.9 353.5 L226.1 352.9 L228.2 352.3 L230.3 351.5 L232.4 350.6 L234.5 349.5 L236.7 348.0 L238.8 345.9 L240.9 343.7 L243.0 342.1 L245.2 341.8 L247.3 342.7 L249.4 344.0 L251.5 344.7 L253.7 344.1 L255.8 342.2 L257.9 339.6 L260.0 336.8 L262.2 334.2 L264.3 332.4 L266.4 331.9 L268.5 332.5 L270.6 333.9 L272.8 336.1 L274.9 338.7 L277.0 341.5 L279.1 344.3 L281.3 346.9 L283.4 349.2 L285.5 351.1 L287.6 352.5 L289.8 353.6 L291.9 354.3 L294.0 354.8" stroke-width="0.4" opacity="0.7"/><path d="M202.7 353.3 L204.8 353.3 L206.9 353.3 L209.1 353.2 L211.2 353.2 L213.3 353.2 L215.4 353.1 L217.6 353.1 L219.7 352.9 L221.8 352.8 L223.9 352.5 L226.1 352.2 L228.2 351.7 L230.3 351.2 L232.4 350.6 L234.5 350.0 L236.7 349.3 L238.8 348.6 L240.9 347.9 L243.0 347.1 L245.2 346.0 L247.3 344.9 L249.4 344.2 L251.5 344.5 L253.7 345.6 L255.8 347.1 L257.9 348.1 L260.0 348.5 L262.2 348.2 L264.3 347.1 L266.4 345.5 L268.5 343.6 L270.6 341.6 L272.8 339.9 L274.9 339.1 L277.0 339.1 L279.1 339.6 L281.3 340.5 L283.4 341.6 L285.5 343.0 L287.6 344.4 L289.8 345.9 L291.9 347.3 L294.0 348.6" stroke-width="0.4" opacity="0.7"/><path d="M202.7 357.2 L204.8 357.2 L206.9 357.2 L209.1 357.2 L211.2 357.1 L213.3 357.0 L215.4 356.9 L217.6 356.8 L219.7 356.5 L221.8 356.1 L223.9 355.7 L226.1 355.1 L228.2 354.4 L230.3 353.5 L232.4 352.6 L234.5 351.5 L236.7 350.2 L238.8 348.6 L240.9 346.4 L243.0 343.7 L245.2 341.4 L247.3 340.4 L249.4 341.0 L251.5 342.4 L253.7 343.7 L255.8 344.0 L257.9 343.4 L260.0 342.3 L262.2 340.9 L264.3 339.8 L266.4 339.2 L268.5 339.3 L270.6 340.0 L272.8 341.2 L274.9 342.7 L277.0 344.6 L279.1 346.6 L281.3 348.6 L283.4 350.5 L285.5 352.1 L287.6 353.5 L289.8 354.6 L291.9 355.5 L294.0 356.1" stroke-width="0.4" opacity="0.7"/><path d="M202.7 357.8 L204.8 357.8 L206.9 357.8 L209.1 357.8 L211.2 357.8 L213.3 357.7 L215.4 357.7 L217.6 357.6 L219.7 357.5 L221.8 357.4 L223.9 357.2 L226.1 356.9 L228.2 356.6 L230.3 356.2 L232.4 355.7 L234.5 355.1 L236.7 354.5 L238.8 353.9 L240.9 353.2 L243.0 352.5 L245.2 351.5 L247.3 350.2 L249.4 348.9 L251.5 348.1 L253.7 348.2 L255.8 349.0 L257.9 349.8 L260.0 349.9 L262.2 348.7 L264.3 346.6 L266.4 343.8 L268.5 341.1 L270.6 339.2 L272.8 338.6 L274.9 339.1 L277.0 340.1 L279.1 341.6 L281.3 343.4 L283.4 345.5 L285.5 347.6 L287.6 349.6 L289.8 351.5 L291.9 353.0 L294.0 354.3" stroke-width="0.4" opacity="0.7"/><path d="M202.7 358.0 L204.8 358.0 L206.9 358.0 L209.1 358.0 L211.2 358.0 L213.3 358.0 L215.4 358.0 L217.6 357.9 L219.7 357.8 L221.8 357.7 L223.9 357.5 L226.1 357.2 L228.2 356.9 L230.3 356.4 L232.4 355.8 L234.5 355.1 L236.7 354.2 L238.8 353.4 L240.9 352.4 L243.0 351.5 L245.2 350.4 L247.3 348.9 L249.4 347.0 L251.5 344.8 L253.7 343.1 L255.8 342.6 L257.9 343.9 L260.0 346.3 L262.2 348.7 L264.3 350.1 L266.4 350.1 L268.5 348.9 L270.6 346.8 L272.8 344.4 L274.9 342.1 L277.0 340.5 L279.1 340.0 L281.3 340.5 L283.4 341.4 L285.5 342.8 L287.6 344.5 L289.8 346.4 L291.9 348.4 L294.0 350.3" stroke-width="0.4" opacity="0.7"/><path d="M202.7 357.0 L204.8 357.0 L206.9 357.0 L209.1 357.0 L211.2 356.9 L213.3 356.9 L215.4 356.9 L217.6 356.8 L219.7 356.7 L221.8 356.6 L223.9 356.4 L226.1 356.2 L228.2 355.8 L230.3 355.4 L232.4 354.9 L234.5 354.4 L236.7 353.8 L238.8 353.3 L240.9 352.7 L243.0 352.2 L245.2 351.6 L247.3 351.0 L249.4 350.5 L251.5 350.2 L253.7 350.4 L255.8 351.0 L257.9 351.7 L260.0 352.2 L262.2 352.5 L264.3 352.6 L266.4 352.6 L268.5 352.6 L270.6 352.5 L272.8 352.6 L274.9 352.8 L277.0 353.1 L279.1 353.5 L281.3 353.9 L283.4 354.4 L285.5 354.9 L287.6 355.3 L289.8 355.8 L291.9 356.1 L294.0 356.4" stroke-width="0.4" opacity="0.7"/><path d="M202.7 356.4 L204.8 356.4 L206.9 356.4 L209.1 356.4 L211.2 356.3 L213.3 356.3 L215.4 356.2 L217.6 356.0 L219.7 355.8 L221.8 355.5 L223.9 355.2 L226.1 354.7 L228.2 354.2 L230.3 353.6 L232.4 352.9 L234.5 352.2 L236.7 351.4 L238.8 350.5 L240.9 349.4 L243.0 348.1 L245.2 346.7 L247.3 345.8 L249.4 345.5 L251.5 345.8 L253.7 346.5 L255.8 347.0 L257.9 347.0 L260.0 346.5 L262.2 345.7 L264.3 345.0 L266.4 344.6 L268.5 344.8 L270.6 345.5 L272.8 346.5 L274.9 347.7 L277.0 349.1 L279.1 350.6 L281.3 351.9 L283.4 353.1 L285.5 354.1 L287.6 354.8 L289.8 355.4 L291.9 355.8 L294.0 356.1" stroke-width="0.4" opacity="0.7"/><path d="M202.7 353.4 L204.8 353.4 L206.9 353.3 L209.1 353.3 L211.2 353.2 L213.3 353.1 L215.4 352.9 L217.6 352.7 L219.7 352.4 L221.8 351.9 L223.9 351.4 L226.1 350.7 L228.2 350.0 L230.3 349.1 L232.4 348.2 L234.5 347.2 L236.7 345.9 L238.8 344.2 L240.9 342.2 L243.0 340.4 L245.2 339.4 L247.3 339.9 L249.4 341.8 L251.5 344.3 L253.7 346.7 L255.8 348.2 L257.9 348.6 L260.0 347.9 L262.2 345.9 L264.3 343.0 L266.4 339.6 L268.5 336.4 L270.6 334.4 L272.8 334.2 L274.9 334.9 L277.0 336.1 L279.1 337.7 L281.3 339.7 L283.4 341.8 L285.5 343.9 L287.6 345.9 L289.8 347.6 L291.9 349.1 L294.0 350.4" stroke-width="0.4" opacity="0.7"/><path d="M202.7 357.4 L204.8 357.4 L206.9 357.4 L209.1 357.4 L211.2 357.3 L213.3 357.3 L215.4 357.1 L217.6 357.0 L219.7 356.7 L221.8 356.4 L223.9 356.0 L226.1 355.4 L228.2 354.7 L230.3 353.9 L232.4 353.0 L234.5 352.0 L236.7 350.9 L238.8 349.6 L240.9 347.8 L243.0 345.4 L245.2 342.7 L247.3 340.5 L249.4 339.9 L251.5 341.1 L253.7 343.3 L255.8 345.3 L257.9 346.1 L260.0 345.6 L262.2 344.1 L264.3 341.9 L266.4 339.5 L268.5 337.2 L270.6 335.3 L272.8 334.1 L274.9 333.8 L277.0 334.7 L279.1 336.6 L281.3 339.4 L283.4 342.6 L285.5 345.9 L287.6 348.9 L289.8 351.4 L291.9 353.4 L294.0 354.9" stroke-width="0.4" opacity="0.7"/><path d="M202.7 357.1 L204.8 357.1 L206.9 357.1 L209.1 357.1 L211.2 357.1 L213.3 357.0 L215.4 356.9 L217.6 356.7 L219.7 356.5 L221.8 356.2 L223.9 355.8 L226.1 355.4 L228.2 354.8 L230.3 354.2 L232.4 353.5 L234.5 352.8 L236.7 352.1 L238.8 351.3 L240.9 350.1 L243.0 348.7 L245.2 347.2 L247.3 346.2 L249.4 346.4 L251.5 347.5 L253.7 349.0 L255.8 350.0 L257.9 350.4 L260.0 350.0 L262.2 349.2 L264.3 348.2 L266.4 347.2 L268.5 346.4 L270.6 346.0 L272.8 346.1 L274.9 346.5 L277.0 347.2 L279.1 348.2 L281.3 349.4 L283.4 350.7 L285.5 351.9 L287.6 353.0 L289.8 354.0 L291.9 354.9 L294.0 355.6" stroke-width="0.4" opacity="0.7"/><path d="M202.7 354.0 L204.8 354.0 L206.9 354.0 L209.1 354.0 L211.2 354.0 L213.3 354.0 L215.4 353.9 L217.6 353.8 L219.7 353.7 L221.8 353.5 L223.9 353.3 L226.1 352.9 L228.2 352.4 L230.3 351.8 L232.4 351.1 L234.5 350.2 L236.7 349.2 L238.8 348.1 L240.9 346.8 L243.0 345.1 L245.2 343.0 L247.3 340.5 L249.4 338.2 L251.5 336.6 L253.7 336.5 L255.8 337.8 L257.9 340.1 L260.0 342.4 L262.2 344.2 L264.3 345.0 L266.4 345.0 L268.5 344.4 L270.6 343.6 L272.8 342.9 L274.9 342.5 L277.0 342.5 L279.1 342.9 L281.3 343.5 L283.4 344.5 L285.5 345.6 L287.6 346.8 L289.8 348.1 L291.9 349.3 L294.0 350.3" stroke-width="0.4" opacity="0.7"/><path d="M202.7 355.0 L204.8 354.9 L206.9 354.9 L209.1 354.9 L211.2 354.9 L213.3 354.8 L215.4 354.8 L217.6 354.7 L219.7 354.5 L221.8 354.3 L223.9 354.0 L226.1 353.6 L228.2 353.2 L230.3 352.6 L232.4 352.0 L234.5 351.4 L236.7 350.7 L238.8 349.8 L240.9 348.4 L243.0 346.3 L245.2 343.3 L247.3 340.3 L249.4 338.4 L251.5 338.1 L253.7 339.1 L255.8 340.1 L257.9 340.1 L260.0 338.8 L262.2 336.7 L264.3 334.3 L266.4 332.2 L268.5 330.6 L270.6 330.0 L272.8 330.2 L274.9 331.2 L277.0 332.9 L279.1 335.0 L281.3 337.6 L283.4 340.3 L285.5 342.9 L287.6 345.4 L289.8 347.6 L291.9 349.5 L294.0 351.0" stroke-width="0.4" opacity="0.7"/><path d="M202.7 354.7 L204.8 354.7 L206.9 354.7 L209.1 354.7 L211.2 354.7 L213.3 354.7 L215.4 354.6 L217.6 354.5 L219.7 354.4 L221.8 354.3 L223.9 354.1 L226.1 353.8 L228.2 353.4 L230.3 352.9 L232.4 352.3 L234.5 351.6 L236.7 350.8 L238.8 350.1 L240.9 349.4 L243.0 348.7 L245.2 348.0 L247.3 347.2 L249.4 346.3 L251.5 345.4 L253.7 344.7 L255.8 344.5 L257.9 344.9 L260.0 345.7 L262.2 346.4 L264.3 346.7 L266.4 346.4 L268.5 345.7 L270.6 344.9 L272.8 344.3 L274.9 344.1 L277.0 344.3 L279.1 344.9 L281.3 345.8 L283.4 346.9 L285.5 348.2 L287.6 349.4 L289.8 350.6 L291.9 351.7 L294.0 352.5" stroke-width="0.4" opacity="0.7"/><path d="M202.7 356.3 L204.8 356.3 L206.9 356.3 L209.1 356.2 L211.2 356.2 L213.3 356.2 L215.4 356.1 L217.6 356.0 L219.7 355.8 L221.8 355.6 L223.9 355.2 L226.1 354.8 L228.2 354.3 L230.3 353.7 L232.4 353.0 L234.5 352.2 L236.7 351.3 L238.8 350.4 L240.9 349.4 L243.0 348.2 L245.2 346.8 L247.3 345.5 L249.4 344.6 L251.5 344.4 L253.7 344.9 L255.8 345.7 L257.9 346.2 L260.0 346.2 L262.2 345.5 L264.3 344.2 L266.4 342.6 L268.5 341.0 L270.6 339.8 L272.8 339.1 L274.9 339.0 L277.0 339.6 L279.1 340.7 L281.3 342.2 L283.4 344.0 L285.5 345.9 L287.6 347.9 L289.8 349.7 L291.9 351.3 L294.0 352.6" stroke-width="0.4" opacity="0.7"/><path d="M202.7 358.1 L204.8 358.1 L206.9 358.1 L209.1 358.1 L211.2 358.1 L213.3 358.0 L215.4 358.0 L217.6 357.9 L219.7 357.9 L221.8 357.7 L223.9 357.5 L226.1 357.2 L228.2 356.8 L230.3 356.3 L232.4 355.6 L234.5 354.9 L236.7 354.0 L238.8 353.1 L240.9 352.0 L243.0 350.8 L245.2 349.2 L247.3 347.1 L249.4 344.6 L251.5 342.5 L253.7 341.3 L255.8 341.4 L257.9 342.6 L260.0 343.9 L262.2 344.6 L264.3 344.2 L266.4 343.0 L268.5 341.4 L270.6 339.6 L272.8 338.1 L274.9 337.2 L277.0 337.0 L279.1 337.5 L281.3 338.9 L283.4 340.9 L285.5 343.3 L287.6 345.8 L289.8 348.4 L291.9 350.7 L294.0 352.7" stroke-width="0.4" opacity="0.7"/><path d="M202.7 356.4 L204.8 356.4 L206.9 356.4 L209.1 356.4 L211.2 356.4 L213.3 356.4 L215.4 356.3 L217.6 356.3 L219.7 356.2 L221.8 356.0 L223.9 355.8 L226.1 355.5 L228.2 355.1 L230.3 354.7 L232.4 354.1 L234.5 353.5 L236.7 352.9 L238.8 352.2 L240.9 351.4 L243.0 350.2 L245.2 348.4 L247.3 345.8 L249.4 342.7 L251.5 340.3 L253.7 339.6 L255.8 340.8 L257.9 342.5 L260.0 343.5 L262.2 342.9 L264.3 340.9 L266.4 338.0 L268.5 335.2 L270.6 333.2 L272.8 332.3 L274.9 332.7 L277.0 333.6 L279.1 335.0 L281.3 336.8 L283.4 338.8 L285.5 341.1 L287.6 343.4 L289.8 345.6 L291.9 347.7 L294.0 349.6" stroke-width="0.4" opacity="0.7"/><path d="M202.7 356.1 L204.8 356.1 L206.9 356.1 L209.1 356.0 L211.2 356.0 L213.3 355.9 L215.4 355.8 L217.6 355.6 L219.7 355.3 L221.8 354.9 L223.9 354.4 L226.1 353.8 L228.2 353.0 L230.3 352.1 L232.4 351.2 L234.5 350.2 L236.7 349.0 L238.8 347.7 L240.9 346.3 L243.0 344.8 L245.2 343.8 L247.3 343.5 L249.4 344.0 L251.5 345.0 L253.7 345.9 L255.8 346.3 L257.9 345.9 L260.0 344.9 L262.2 343.4 L264.3 342.0 L266.4 340.9 L268.5 340.5 L270.6 340.8 L272.8 341.6 L274.9 342.9 L277.0 344.6 L279.1 346.4 L281.3 348.2 L283.4 350.0 L285.5 351.5 L287.6 352.8 L289.8 353.8 L291.9 354.6 L294.0 355.2" stroke-width="0.4" opacity="0.7"/><path d="M202.7 354.6 L204.8 354.6 L206.9 354.6 L209.1 354.5 L211.2 354.5 L213.3 354.5 L215.4 354.4 L217.6 354.2 L219.7 354.1 L221.8 353.8 L223.9 353.5 L226.1 353.1 L228.2 352.6 L230.3 352.0 L232.4 351.4 L234.5 350.8 L236.7 350.2 L238.8 349.4 L240.9 348.5 L243.0 347.2 L245.2 345.8 L247.3 344.6 L249.4 344.2 L251.5 344.8 L253.7 345.8 L255.8 346.4 L257.9 346.5 L260.0 345.9 L262.2 345.0 L264.3 344.1 L266.4 343.3 L268.5 342.9 L270.6 342.8 L272.8 343.2 L274.9 344.1 L277.0 345.4 L279.1 346.8 L281.3 348.4 L283.4 349.8 L285.5 351.1 L287.6 352.2 L289.8 353.0 L291.9 353.6 L294.0 354.0" stroke-width="0.4" opacity="0.7"/><path d="M202.7 353.7 L204.8 353.7 L206.9 353.7 L209.1 353.7 L211.2 353.6 L213.3 353.5 L215.4 353.4 L217.6 353.1 L219.7 352.8 L221.8 352.4 L223.9 351.8 L226.1 351.2 L228.2 350.4 L230.3 349.4 L232.4 348.5 L234.5 347.5 L236.7 346.4 L238.8 345.3 L240.9 344.0 L243.0 342.5 L245.2 341.1 L247.3 340.2 L249.4 340.1 L251.5 340.7 L253.7 341.5 L255.8 341.9 L257.9 341.8 L260.0 341.1 L262.2 340.3 L264.3 339.6 L266.4 339.2 L268.5 339.4 L270.6 340.1 L272.8 341.2 L274.9 342.6 L277.0 344.2 L279.1 345.9 L281.3 347.6 L283.4 349.1 L285.5 350.3 L287.6 351.4 L289.8 352.1 L291.9 352.7 L294.0 353.1" stroke-width="0.4" opacity="0.7"/><path d="M202.7 352.7 L204.8 352.7 L206.9 352.7 L209.1 352.7 L211.2 352.6 L213.3 352.6 L215.4 352.5 L217.6 352.4 L219.7 352.2 L221.8 352.0 L223.9 351.6 L226.1 351.2 L228.2 350.7 L230.3 350.0 L232.4 349.3 L234.5 348.6 L236.7 347.8 L238.8 346.9 L240.9 345.9 L243.0 344.5 L245.2 342.5 L247.3 340.1 L249.4 338.1 L251.5 337.5 L253.7 338.7 L255.8 340.9 L257.9 343.0 L260.0 344.0 L262.2 343.5 L264.3 341.9 L266.4 339.7 L268.5 337.4 L270.6 335.5 L272.8 334.6 L274.9 334.7 L277.0 335.7 L279.1 337.3 L281.3 339.4 L283.4 341.8 L285.5 344.1 L287.6 346.3 L289.8 348.1 L291.9 349.6 L294.0 350.7" stroke-width="0.4" opacity="0.7"/><path d="M202.7 356.1 L204.8 356.1 L206.9 356.1 L209.1 356.1 L211.2 356.1 L213.3 356.0 L215.4 355.9 L217.6 355.7 L219.7 355.5 L221.8 355.1 L223.9 354.6 L226.1 354.0 L228.2 353.2 L230.3 352.2 L232.4 351.1 L234.5 349.9 L236.7 348.6 L238.8 347.4 L240.9 346.1 L243.0 344.2 L245.2 341.4 L247.3 337.6 L249.4 334.0 L251.5 332.7 L253.7 334.2 L255.8 337.1 L257.9 339.3 L260.0 339.7 L262.2 338.7 L264.3 337.0 L266.4 335.3 L268.5 333.9 L270.6 333.4 L272.8 333.7 L274.9 334.6 L277.0 336.2 L279.1 338.2 L281.3 340.6 L283.4 343.1 L285.5 345.5 L287.6 347.8 L289.8 349.8 L291.9 351.5 L294.0 352.9" stroke-width="0.4" opacity="0.7"/><path d="M202.7 357.4 L204.8 357.4 L206.9 357.4 L209.1 357.4 L211.2 357.4 L213.3 357.3 L215.4 357.3 L217.6 357.2 L219.7 357.1 L221.8 356.9 L223.9 356.6 L226.1 356.3 L228.2 355.8 L230.3 355.2 L232.4 354.4 L234.5 353.6 L236.7 352.6 L238.8 351.6 L240.9 350.7 L243.0 349.8 L245.2 348.9 L247.3 348.0 L249.4 347.1 L251.5 346.5 L253.7 346.8 L255.8 347.9 L257.9 349.2 L260.0 350.1 L262.2 350.5 L264.3 350.3 L266.4 349.7 L268.5 348.8 L270.6 348.0 L272.8 347.5 L274.9 347.5 L277.0 347.9 L279.1 348.5 L281.3 349.3 L283.4 350.2 L285.5 351.2 L287.6 352.2 L289.8 353.2 L291.9 354.2 L294.0 354.9" stroke-width="0.4" opacity="0.7"/><path d="M202.7 358.4 L204.8 358.4 L206.9 358.4 L209.1 358.4 L211.2 358.4 L213.3 358.4 L215.4 358.3 L217.6 358.3 L219.7 358.2 L221.8 358.1 L223.9 357.9 L226.1 357.7 L228.2 357.4 L230.3 357.0 L232.4 356.6 L234.5 356.1 L236.7 355.5 L238.8 354.9 L240.9 354.2 L243.0 353.2 L245.2 351.7 L247.3 349.7 L249.4 347.4 L251.5 345.3 L253.7 344.4 L255.8 344.9 L257.9 346.3 L260.0 347.8 L262.2 348.4 L264.3 348.0 L266.4 346.6 L268.5 344.7 L270.6 342.8 L272.8 341.4 L274.9 340.9 L277.0 341.1 L279.1 341.8 L281.3 342.9 L283.4 344.4 L285.5 346.1 L287.6 347.9 L289.8 349.7 L291.9 351.4 L294.0 353.0" stroke-width="0.4" opacity="0.7"/><path d="M202.7 355.6 L204.8 355.6 L206.9 355.6 L209.1 355.5 L211.2 355.5 L213.3 355.4 L215.4 355.3 L217.6 355.2 L219.7 354.9 L221.8 354.6 L223.9 354.1 L226.1 353.6 L228.2 352.9 L230.3 352.0 L232.4 351.2 L234.5 350.2 L236.7 349.3 L238.8 348.5 L240.9 347.6 L243.0 346.7 L245.2 345.4 L247.3 343.9 L249.4 342.6 L251.5 342.0 L253.7 342.3 L255.8 343.1 L257.9 343.7 L260.0 343.5 L262.2 342.5 L264.3 341.0 L266.4 339.6 L268.5 338.5 L270.6 338.0 L272.8 338.3 L274.9 339.1 L277.0 340.3 L279.1 341.9 L281.3 343.7 L283.4 345.6 L285.5 347.4 L287.6 349.2 L289.8 350.7 L291.9 352.0 L294.0 353.0" stroke-width="0.4" opacity="0.7"/><path d="M202.7 358.1 L204.8 358.1 L206.9 358.1 L209.1 358.1 L211.2 358.1 L213.3 358.1 L215.4 358.0 L217.6 358.0 L219.7 357.9 L221.8 357.8 L223.9 357.6 L226.1 357.4 L228.2 357.1 L230.3 356.7 L232.4 356.3 L234.5 355.8 L236.7 355.3 L238.8 354.8 L240.9 353.9 L243.0 352.7 L245.2 350.7 L247.3 348.3 L249.4 346.3 L251.5 345.5 L253.7 345.9 L255.8 346.8 L257.9 347.2 L260.0 346.5 L262.2 344.9 L264.3 342.9 L266.4 340.9 L268.5 339.2 L270.6 338.1 L272.8 337.7 L274.9 338.3 L277.0 339.9 L279.1 342.4 L281.3 345.4 L283.4 348.5 L285.5 351.2 L287.6 353.5 L289.8 355.2 L291.9 356.4 L294.0 357.2" stroke-width="0.4" opacity="0.7"/><path d="M202.7 354.4 L204.8 354.4 L206.9 354.4 L209.1 354.4 L211.2 354.4 L213.3 354.3 L215.4 354.3 L217.6 354.2 L219.7 354.0 L221.8 353.8 L223.9 353.5 L226.1 353.0 L228.2 352.5 L230.3 351.8 L232.4 351.1 L234.5 350.2 L236.7 349.1 L238.8 347.9 L240.9 346.5 L243.0 344.7 L245.2 342.6 L247.3 340.5 L249.4 339.0 L251.5 338.4 L253.7 338.8 L255.8 339.8 L257.9 340.8 L260.0 341.3 L262.2 341.3 L264.3 340.9 L266.4 340.7 L268.5 340.8 L270.6 341.4 L272.8 342.2 L274.9 343.4 L277.0 344.7 L279.1 346.2 L281.3 347.7 L283.4 349.1 L285.5 350.3 L287.6 351.4 L289.8 352.2 L291.9 352.9 L294.0 353.4" stroke-width="0.4" opacity="0.7"/><path d="M202.7 355.2 L204.8 355.2 L206.9 355.2 L209.1 355.2 L211.2 355.2 L213.3 355.1 L215.4 355.1 L217.6 355.0 L219.7 354.9 L221.8 354.7 L223.9 354.4 L226.1 354.1 L228.2 353.7 L230.3 353.2 L232.4 352.6 L234.5 352.0 L236.7 351.4 L238.8 350.7 L240.9 349.7 L243.0 348.3 L245.2 346.4 L247.3 344.2 L249.4 342.5 L251.5 342.2 L253.7 343.1 L255.8 344.5 L257.9 345.3 L260.0 344.9 L262.2 343.4 L264.3 341.2 L266.4 338.7 L268.5 336.3 L270.6 334.6 L272.8 333.8 L274.9 333.9 L277.0 334.7 L279.1 336.1 L281.3 338.0 L283.4 340.2 L285.5 342.5 L287.6 344.8 L289.8 346.9 L291.9 348.9 L294.0 350.5" stroke-width="0.4" opacity="0.7"/><path d="M202.7 353.9 L204.8 353.9 L206.9 353.9 L209.1 353.9 L211.2 353.9 L213.3 353.8 L215.4 353.8 L217.6 353.7 L219.7 353.6 L221.8 353.5 L223.9 353.3 L226.1 353.1 L228.2 352.7 L230.3 352.3 L232.4 351.8 L234.5 351.3 L236.7 350.7 L238.8 350.1 L240.9 349.4 L243.0 348.5 L245.2 347.3 L247.3 345.8 L249.4 344.2 L251.5 343.1 L253.7 342.7 L255.8 342.8 L257.9 342.7 L260.0 342.2 L262.2 341.0 L264.3 339.3 L266.4 337.6 L268.5 336.1 L270.6 335.0 L272.8 334.5 L274.9 334.7 L277.0 335.6 L279.1 337.2 L281.3 339.2 L283.4 341.6 L285.5 344.0 L287.6 346.3 L289.8 348.3 L291.9 349.9 L294.0 351.2" stroke-width="0.4" opacity="0.7"/><path d="M202.7 354.8 L204.8 354.8 L206.9 354.8 L209.1 354.8 L211.2 354.7 L213.3 354.7 L215.4 354.5 L217.6 354.4 L219.7 354.1 L221.8 353.8 L223.9 353.3 L226.1 352.7 L228.2 352.0 L230.3 351.2 L232.4 350.1 L234.5 348.5 L236.7 346.3 L238.8 343.1 L240.9 339.2 L243.0 334.8 L245.2 331.2 L247.3 329.0 L249.4 328.8 L251.5 329.8 L253.7 331.1 L255.8 331.5 L257.9 330.7 L260.0 328.9 L262.2 326.6 L264.3 324.8 L266.4 324.0 L268.5 324.5 L270.6 326.2 L272.8 329.0 L274.9 332.6 L277.0 336.5 L279.1 340.4 L281.3 344.0 L283.4 347.0 L285.5 349.5 L287.6 351.4 L289.8 352.7 L291.9 353.5 L294.0 354.1" stroke-width="0.4" opacity="0.7"/><path d="M202.7 356.0 L204.8 355.9 L206.9 355.9 L209.1 355.9 L211.2 355.9 L213.3 355.9 L215.4 355.8 L217.6 355.7 L219.7 355.6 L221.8 355.4 L223.9 355.1 L226.1 354.8 L228.2 354.4 L230.3 353.9 L232.4 353.4 L234.5 352.8 L236.7 352.1 L238.8 351.4 L240.9 350.4 L243.0 349.0 L245.2 347.0 L247.3 344.8 L249.4 342.9 L251.5 342.3 L253.7 343.1 L255.8 344.8 L257.9 346.3 L260.0 346.8 L262.2 345.8 L264.3 343.7 L266.4 341.1 L268.5 338.6 L270.6 337.0 L272.8 336.5 L274.9 337.1 L277.0 338.4 L279.1 340.2 L281.3 342.3 L283.4 344.7 L285.5 347.0 L287.6 349.1 L289.8 350.9 L291.9 352.4 L294.0 353.6" stroke-width="0.4" opacity="0.7"/><path d="M202.7 355.4 L204.8 355.4 L206.9 355.4 L209.1 355.3 L211.2 355.2 L213.3 355.1 L215.4 354.9 L217.6 354.6 L219.7 354.2 L221.8 353.6 L223.9 352.9 L226.1 352.0 L228.2 351.0 L230.3 349.8 L232.4 348.5 L234.5 347.2 L236.7 345.7 L238.8 343.9 L240.9 341.7 L243.0 339.3 L245.2 337.0 L247.3 335.6 L249.4 335.5 L251.5 336.5 L253.7 337.7 L255.8 338.3 L257.9 338.1 L260.0 337.2 L262.2 335.9 L264.3 334.8 L266.4 334.2 L268.5 334.3 L270.6 335.0 L272.8 336.2 L274.9 337.7 L277.0 339.5 L279.1 341.6 L281.3 343.7 L283.4 345.7 L285.5 347.6 L287.6 349.4 L289.8 350.8 L291.9 352.1 L294.0 353.0" stroke-width="0.4" opacity="0.7"/><path d="M202.7 355.6 L204.8 355.6 L206.9 355.6 L209.1 355.6 L211.2 355.6 L213.3 355.6 L215.4 355.5 L217.6 355.5 L219.7 355.4 L221.8 355.2 L223.9 355.0 L226.1 354.7 L228.2 354.4 L230.3 353.9 L232.4 353.4 L234.5 352.8 L236.7 352.2 L238.8 351.6 L240.9 350.7 L243.0 349.3 L245.2 347.2 L247.3 344.3 L249.4 341.8 L251.5 340.8 L253.7 341.9 L255.8 344.1 L257.9 345.9 L260.0 346.3 L262.2 345.2 L264.3 343.0 L266.4 340.0 L268.5 336.8 L270.6 333.8 L272.8 331.4 L274.9 330.0 L277.0 329.8 L279.1 330.5 L281.3 331.9 L283.4 334.0 L285.5 336.5 L287.6 339.3 L289.8 342.1 L291.9 344.8 L294.0 347.2" stroke-width="0.4" opacity="0.7"/><path d="M202.7 354.7 L204.8 354.7 L206.9 354.6 L209.1 354.6 L211.2 354.6 L213.3 354.5 L215.4 354.5 L217.6 354.4 L219.7 354.2 L221.8 354.0 L223.9 353.7 L226.1 353.3 L228.2 352.9 L230.3 352.3 L232.4 351.7 L234.5 351.0 L236.7 350.1 L238.8 349.0 L240.9 347.4 L243.0 345.5 L245.2 343.4 L247.3 341.5 L249.4 340.2 L251.5 339.8 L253.7 340.1 L255.8 340.6 L257.9 340.8 L260.0 340.3 L262.2 339.2 L264.3 337.9 L266.4 336.7 L268.5 336.2 L270.6 336.7 L272.8 338.0 L274.9 340.1 L277.0 342.6 L279.1 345.2 L281.3 347.7 L283.4 349.8 L285.5 351.4 L287.6 352.7 L289.8 353.5 L291.9 354.0 L294.0 354.3" stroke-width="0.4" opacity="0.7"/><path d="M202.7 356.0 L204.8 356.0 L206.9 356.0 L209.1 356.0 L211.2 356.0 L213.3 355.9 L215.4 355.9 L217.6 355.8 L219.7 355.7 L221.8 355.5 L223.9 355.3 L226.1 355.0 L228.2 354.6 L230.3 354.1 L232.4 353.6 L234.5 353.1 L236.7 352.6 L238.8 352.1 L240.9 351.6 L243.0 351.2 L245.2 350.8 L247.3 350.6 L249.4 350.5 L251.5 350.7 L253.7 351.1 L255.8 351.6 L257.9 351.9 L260.0 351.6 L262.2 350.7 L264.3 349.2 L266.4 347.2 L268.5 345.1 L270.6 343.4 L272.8 342.5 L274.9 342.5 L277.0 342.9 L279.1 343.7 L281.3 344.7 L283.4 345.8 L285.5 347.1 L287.6 348.4 L289.8 349.7 L291.9 350.9 L294.0 352.0" stroke-width="0.4" opacity="0.7"/><path d="M202.7 354.4 L204.8 354.4 L206.9 354.4 L209.1 354.4 L211.2 354.3 L213.3 354.3 L215.4 354.2 L217.6 354.0 L219.7 353.8 L221.8 353.5 L223.9 353.1 L226.1 352.6 L228.2 351.9 L230.3 351.2 L232.4 350.4 L234.5 349.6 L236.7 348.8 L238.8 348.0 L240.9 347.2 L243.0 346.0 L245.2 344.4 L247.3 342.7 L249.4 341.6 L251.5 341.8 L253.7 342.8 L255.8 343.4 L257.9 343.1 L260.0 342.1 L262.2 340.8 L264.3 339.5 L266.4 338.5 L268.5 338.1 L270.6 338.4 L272.8 339.2 L274.9 340.5 L277.0 342.0 L279.1 343.8 L281.3 345.6 L283.4 347.4 L285.5 349.0 L287.6 350.4 L289.8 351.5 L291.9 352.4 L294.0 353.1" stroke-width="0.4" opacity="0.7"/><path d="M202.7 356.7 L204.8 356.7 L206.9 356.7 L209.1 356.7 L211.2 356.7 L213.3 356.6 L215.4 356.5 L217.6 356.4 L219.7 356.2 L221.8 356.0 L223.9 355.6 L226.1 355.0 L228.2 354.4 L230.3 353.6 L232.4 352.6 L234.5 351.6 L236.7 350.4 L238.8 349.1 L240.9 347.4 L243.0 345.2 L245.2 342.7 L247.3 340.3 L249.4 338.9 L251.5 339.1 L253.7 340.9 L255.8 343.5 L257.9 345.9 L260.0 347.3 L262.2 347.4 L264.3 346.3 L266.4 344.3 L268.5 341.8 L270.6 339.1 L272.8 336.7 L274.9 335.1 L277.0 334.5 L279.1 335.1 L281.3 336.6 L283.4 339.0 L285.5 341.8 L287.6 344.8 L289.8 347.6 L291.9 350.1 L294.0 352.2" stroke-width="0.4" opacity="0.7"/><path d="M202.7 357.7 L204.8 357.7 L206.9 357.7 L209.1 357.6 L211.2 357.5 L213.3 357.4 L215.4 357.3 L217.6 357.0 L219.7 356.7 L221.8 356.3 L223.9 355.7 L226.1 355.0 L228.2 354.1 L230.3 353.2 L232.4 352.2 L234.5 351.1 L236.7 350.0 L238.8 348.6 L240.9 346.6 L243.0 344.1 L245.2 341.7 L247.3 340.4 L249.4 340.9 L251.5 342.8 L253.7 344.5 L255.8 345.1 L257.9 344.1 L260.0 341.8 L262.2 338.9 L264.3 336.0 L266.4 333.8 L268.5 332.8 L270.6 333.2 L272.8 334.6 L274.9 336.9 L277.0 339.7 L279.1 342.8 L281.3 345.9 L283.4 348.8 L285.5 351.2 L287.6 353.2 L289.8 354.7 L291.9 355.8 L294.0 356.6" stroke-width="0.4" opacity="0.7"/><path d="M202.7 357.5 L204.8 357.5 L206.9 357.5 L209.1 357.5 L211.2 357.4 L213.3 357.4 L215.4 357.3 L217.6 357.2 L219.7 357.0 L221.8 356.7 L223.9 356.4 L226.1 356.0 L228.2 355.5 L230.3 354.9 L232.4 354.1 L234.5 353.1 L236.7 351.6 L238.8 349.7 L240.9 347.4 L243.0 345.6 L245.2 344.7 L247.3 345.2 L249.4 346.7 L251.5 348.4 L253.7 349.4 L255.8 349.3 L257.9 348.2 L260.0 346.2 L262.2 343.7 L264.3 341.1 L266.4 338.8 L268.5 337.4 L270.6 337.1 L272.8 337.7 L274.9 338.9 L277.0 340.6 L279.1 342.6 L281.3 344.9 L283.4 347.2 L285.5 349.3 L287.6 351.2 L289.8 352.9 L291.9 354.2 L294.0 355.2" stroke-width="0.4" opacity="0.7"/><path d="M202.7 357.3 L204.8 357.3 L206.9 357.3 L209.1 357.3 L211.2 357.3 L213.3 357.3 L215.4 357.2 L217.6 357.2 L219.7 357.1 L221.8 357.0 L223.9 356.9 L226.1 356.7 L228.2 356.5 L230.3 356.2 L232.4 355.8 L234.5 355.4 L236.7 355.0 L238.8 354.6 L240.9 354.1 L243.0 353.5 L245.2 352.6 L247.3 351.5 L249.4 350.3 L251.5 349.3 L253.7 348.8 L255.8 348.9 L257.9 349.3 L260.0 349.5 L262.2 349.3 L264.3 348.6 L266.4 347.7 L268.5 346.8 L270.6 346.1 L272.8 345.8 L274.9 345.8 L277.0 346.2 L279.1 346.8 L281.3 347.8 L283.4 348.9 L285.5 350.1 L287.6 351.3 L289.8 352.4 L291.9 353.5 L294.0 354.4" stroke-width="0.4" opacity="0.7"/></g><rect x="202.7" y="308.1" width="91.30000000000001" height="55.099999999999966" fill="none" stroke="#111" stroke-width="0.8"/><path d="M209.6 363.2v-1" stroke="#111" stroke-width="0.3"/><text x="209.6" y="368.8" text-anchor="middle" font-size="4" fill="#222">40</text><path d="M225.8 363.2v-1" stroke="#111" stroke-width="0.3"/><text x="225.8" y="368.8" text-anchor="middle" font-size="4" fill="#222">50</text><path d="M241.9 363.2v-1" stroke="#111" stroke-width="0.3"/><text x="241.9" y="368.8" text-anchor="middle" font-size="4" fill="#222">60</text><path d="M258.1 363.2v-1" stroke="#111" stroke-width="0.3"/><text x="258.1" y="368.8" text-anchor="middle" font-size="4" fill="#222">70</text><path d="M274.2 363.2v-1" stroke="#111" stroke-width="0.3"/><text x="274.2" y="368.8" text-anchor="middle" font-size="4" fill="#222">80</text><path d="M290.4 363.2v-1" stroke="#111" stroke-width="0.3"/><text x="290.4" y="368.8" text-anchor="middle" font-size="4" fill="#222">90</text><text x="249.3" y="374" text-anchor="middle" font-size="4" fill="#222">T, °C</text><text x="97.2" y="309.9" text-anchor="end" font-size="3.9" fill="#222">0.02</text><text x="97.2" y="332.8" text-anchor="end" font-size="3.9" fill="#222">0.01</text><text x="97.2" y="355.4" text-anchor="end" font-size="3.9" fill="#222">0.00</text><text transform="translate(85.7,332.8) rotate(-90) scale(0.9,1)" text-anchor="middle" font-size="8.9" fill="#333">∂(F<tspan font-size="5" dy="1">350</tspan><tspan dy="-1">/F</tspan><tspan font-size="5" dy="1">330</tspan><tspan dy="-1">)/∂T</tspan></text><g fill="#ff2a00"><circle cx="206.0" cy="425.7" r="0.85"/><circle cx="198.9" cy="412.8" r="0.85"/><circle cx="177.2" cy="433.9" r="0.85"/><circle cx="200.6" cy="426.8" r="0.85"/><circle cx="171.2" cy="432.3" r="0.85"/><circle cx="189.0" cy="422.3" r="0.85"/><circle cx="161.1" cy="438.3" r="0.85"/><circle cx="221.1" cy="405.9" r="0.85"/><circle cx="164.4" cy="427.4" r="0.85"/><circle cx="175.7" cy="436.3" r="0.85"/><circle cx="178.0" cy="432.5" r="0.85"/><circle cx="217.8" cy="415.2" r="0.85"/><circle cx="197.9" cy="427.7" r="0.85"/><circle cx="196.7" cy="426.0" r="0.85"/><circle cx="213.5" cy="426.3" r="0.85"/><circle cx="196.5" cy="426.0" r="0.85"/><circle cx="195.5" cy="423.6" r="0.85"/><circle cx="200.8" cy="414.2" r="0.85"/><circle cx="194.7" cy="413.9" r="0.85"/><circle cx="190.1" cy="430.3" r="0.85"/><circle cx="198.7" cy="422.1" r="0.85"/><circle cx="202.3" cy="414.2" r="0.85"/><circle cx="220.9" cy="416.2" r="0.85"/><circle cx="189.4" cy="427.6" r="0.85"/><circle cx="226.7" cy="417.0" r="0.85"/><circle cx="168.7" cy="436.5" r="0.85"/><circle cx="184.3" cy="419.2" r="0.85"/><circle cx="194.3" cy="408.7" r="0.85"/><circle cx="210.6" cy="421.2" r="0.85"/><circle cx="187.3" cy="419.9" r="0.85"/><circle cx="191.5" cy="432.6" r="0.85"/><circle cx="208.7" cy="422.5" r="0.85"/><circle cx="221.9" cy="420.2" r="0.85"/><circle cx="156.6" cy="422.4" r="0.85"/><circle cx="171.8" cy="441.2" r="0.85"/><circle cx="215.2" cy="422.7" r="0.85"/><circle cx="183.9" cy="429.8" r="0.85"/><circle cx="241.1" cy="412.9" r="0.85"/><circle cx="212.5" cy="415.9" r="0.85"/><circle cx="218.3" cy="412.5" r="0.85"/><circle cx="181.5" cy="430.2" r="0.85"/><circle cx="180.4" cy="434.1" r="0.85"/><circle cx="220.9" cy="423.7" r="0.85"/><circle cx="194.9" cy="430.8" r="0.85"/><circle cx="184.0" cy="422.0" r="0.85"/><circle cx="187.1" cy="430.9" r="0.85"/><circle cx="207.1" cy="419.2" r="0.85"/><circle cx="213.5" cy="420.2" r="0.85"/><circle cx="159.2" cy="428.6" r="0.85"/><circle cx="207.2" cy="415.2" r="0.85"/><circle cx="178.6" cy="410.2" r="0.85"/><circle cx="170.4" cy="425.5" r="0.85"/><circle cx="197.6" cy="428.7" r="0.85"/><circle cx="214.0" cy="423.5" r="0.85"/><circle cx="146.9" cy="444.9" r="0.85"/><circle cx="206.3" cy="406.2" r="0.85"/><circle cx="165.0" cy="432.3" r="0.85"/><circle cx="227.5" cy="413.9" r="0.85"/><circle cx="188.6" cy="437.7" r="0.85"/><circle cx="158.7" cy="439.2" r="0.85"/><circle cx="160.5" cy="430.8" r="0.85"/><circle cx="187.9" cy="432.8" r="0.85"/><circle cx="187.9" cy="433.3" r="0.85"/><circle cx="216.4" cy="408.5" r="0.85"/><circle cx="240.8" cy="410.2" r="0.85"/><circle cx="212.5" cy="410.7" r="0.85"/><circle cx="233.6" cy="406.1" r="0.85"/><circle cx="222.4" cy="424.4" r="0.85"/><circle cx="162.5" cy="426.1" r="0.85"/><circle cx="194.6" cy="426.1" r="0.85"/><circle cx="177.7" cy="439.2" r="0.85"/><circle cx="226.5" cy="415.2" r="0.85"/><circle cx="173.9" cy="427.2" r="0.85"/><circle cx="203.1" cy="419.9" r="0.85"/><circle cx="244.2" cy="415.1" r="0.85"/><circle cx="169.3" cy="430.9" r="0.85"/><circle cx="182.8" cy="424.1" r="0.85"/><circle cx="201.1" cy="421.6" r="0.85"/><circle cx="184.5" cy="424.7" r="0.85"/><circle cx="185.7" cy="423.7" r="0.85"/><circle cx="190.2" cy="435.1" r="0.85"/><circle cx="207.2" cy="428.2" r="0.85"/><circle cx="227.4" cy="415.2" r="0.85"/><circle cx="206.6" cy="422.3" r="0.85"/><circle cx="217.0" cy="425.6" r="0.85"/><circle cx="193.6" cy="427.6" r="0.85"/><circle cx="174.5" cy="431.4" r="0.85"/><circle cx="206.7" cy="426.1" r="0.85"/><circle cx="169.7" cy="435.4" r="0.85"/><circle cx="201.9" cy="415.4" r="0.85"/><circle cx="214.4" cy="419.2" r="0.85"/><circle cx="175.4" cy="423.0" r="0.85"/><circle cx="197.1" cy="426.9" r="0.85"/><circle cx="216.0" cy="416.3" r="0.85"/><circle cx="207.2" cy="431.6" r="0.85"/><circle cx="183.6" cy="440.9" r="0.85"/><circle cx="200.7" cy="424.1" r="0.85"/><circle cx="216.5" cy="419.3" r="0.85"/><circle cx="188.8" cy="411.0" r="0.85"/><circle cx="174.7" cy="440.1" r="0.85"/><circle cx="183.6" cy="424.1" r="0.85"/><circle cx="189.2" cy="430.2" r="0.85"/><circle cx="172.7" cy="419.3" r="0.85"/><circle cx="183.3" cy="436.3" r="0.85"/><circle cx="194.0" cy="431.9" r="0.85"/><circle cx="191.6" cy="416.2" r="0.85"/><circle cx="187.1" cy="427.7" r="0.85"/><circle cx="188.7" cy="428.4" r="0.85"/><circle cx="214.1" cy="417.4" r="0.85"/><circle cx="189.3" cy="433.8" r="0.85"/><circle cx="193.7" cy="419.6" r="0.85"/><circle cx="196.2" cy="426.3" r="0.85"/><circle cx="158.1" cy="426.2" r="0.85"/><circle cx="164.8" cy="441.8" r="0.85"/><circle cx="188.6" cy="426.7" r="0.85"/><circle cx="197.6" cy="430.8" r="0.85"/><circle cx="189.9" cy="431.3" r="0.85"/><circle cx="158.1" cy="435.6" r="0.85"/><circle cx="181.8" cy="425.3" r="0.85"/><circle cx="193.5" cy="418.6" r="0.85"/><circle cx="211.4" cy="415.2" r="0.85"/><circle cx="222.3" cy="414.4" r="0.85"/><circle cx="193.1" cy="415.8" r="0.85"/><circle cx="176.8" cy="429.8" r="0.85"/><circle cx="214.9" cy="423.4" r="0.85"/><circle cx="211.8" cy="428.0" r="0.85"/><circle cx="185.1" cy="423.6" r="0.85"/><circle cx="211.8" cy="412.9" r="0.85"/><circle cx="195.1" cy="423.3" r="0.85"/><circle cx="209.9" cy="418.8" r="0.85"/><circle cx="168.9" cy="435.6" r="0.85"/><circle cx="210.0" cy="425.5" r="0.85"/><circle cx="218.0" cy="426.4" r="0.85"/><circle cx="195.7" cy="417.3" r="0.85"/><circle cx="164.6" cy="423.3" r="0.85"/><circle cx="181.4" cy="428.9" r="0.85"/><circle cx="137.5" cy="430.0" r="0.85"/><circle cx="177.9" cy="433.4" r="0.85"/><circle cx="169.4" cy="438.7" r="0.85"/><circle cx="221.0" cy="423.7" r="0.85"/><circle cx="215.7" cy="422.4" r="0.85"/><circle cx="204.0" cy="427.4" r="0.85"/><circle cx="205.7" cy="403.7" r="0.85"/><circle cx="210.5" cy="418.4" r="0.85"/><circle cx="186.5" cy="419.8" r="0.85"/><circle cx="167.2" cy="415.8" r="0.85"/><circle cx="205.7" cy="422.3" r="0.85"/><circle cx="208.6" cy="414.3" r="0.85"/><circle cx="213.7" cy="423.2" r="0.85"/><circle cx="240.6" cy="415.5" r="0.85"/><circle cx="178.0" cy="433.5" r="0.85"/><circle cx="193.8" cy="428.7" r="0.85"/><circle cx="192.6" cy="423.7" r="0.85"/><circle cx="216.8" cy="416.6" r="0.85"/><circle cx="182.1" cy="433.1" r="0.85"/><circle cx="220.9" cy="421.8" r="0.85"/><circle cx="185.3" cy="413.7" r="0.85"/><circle cx="188.7" cy="421.8" r="0.85"/><circle cx="195.6" cy="425.1" r="0.85"/><circle cx="176.4" cy="435.9" r="0.85"/><circle cx="202.5" cy="432.9" r="0.85"/><circle cx="191.5" cy="426.6" r="0.85"/><circle cx="161.9" cy="424.3" r="0.85"/><circle cx="192.7" cy="416.9" r="0.85"/><circle cx="176.7" cy="422.7" r="0.85"/><circle cx="239.2" cy="391.1" r="0.85"/><circle cx="142.6" cy="432.8" r="0.85"/><circle cx="257.7" cy="406.2" r="0.85"/><circle cx="155.4" cy="423.0" r="0.85"/></g><g fill="#7d7d00"><circle cx="273.3" cy="433.6" r="0.85"/><circle cx="222.5" cy="434.9" r="0.85"/><circle cx="235.9" cy="439.0" r="0.85"/><circle cx="231.5" cy="441.9" r="0.85"/><circle cx="240.7" cy="439.9" r="0.85"/><circle cx="218.9" cy="432.8" r="0.85"/><circle cx="229.3" cy="443.0" r="0.85"/><circle cx="224.2" cy="435.6" r="0.85"/><circle cx="221.6" cy="447.4" r="0.85"/><circle cx="261.5" cy="444.7" r="0.85"/><circle cx="259.3" cy="435.0" r="0.85"/><circle cx="230.1" cy="445.0" r="0.85"/><circle cx="234.6" cy="428.4" r="0.85"/><circle cx="245.2" cy="431.1" r="0.85"/><circle cx="263.4" cy="434.3" r="0.85"/><circle cx="239.9" cy="438.8" r="0.85"/><circle cx="208.7" cy="440.2" r="0.85"/><circle cx="261.1" cy="448.2" r="0.85"/><circle cx="256.4" cy="434.4" r="0.85"/><circle cx="218.0" cy="438.1" r="0.85"/><circle cx="263.8" cy="439.8" r="0.85"/><circle cx="247.0" cy="428.8" r="0.85"/><circle cx="218.2" cy="434.1" r="0.85"/><circle cx="242.6" cy="440.4" r="0.85"/><circle cx="245.2" cy="439.5" r="0.85"/><circle cx="223.7" cy="447.0" r="0.85"/><circle cx="240.1" cy="440.3" r="0.85"/><circle cx="224.0" cy="446.4" r="0.85"/><circle cx="210.3" cy="444.7" r="0.85"/><circle cx="246.0" cy="442.6" r="0.85"/><circle cx="258.1" cy="433.2" r="0.85"/><circle cx="236.2" cy="446.0" r="0.85"/><circle cx="266.8" cy="445.8" r="0.85"/><circle cx="242.6" cy="425.1" r="0.85"/><circle cx="230.1" cy="442.7" r="0.85"/><circle cx="233.2" cy="431.2" r="0.85"/><circle cx="256.7" cy="431.9" r="0.85"/><circle cx="215.3" cy="443.6" r="0.85"/><circle cx="237.0" cy="446.5" r="0.85"/><circle cx="217.6" cy="441.1" r="0.85"/><circle cx="232.3" cy="448.4" r="0.85"/><circle cx="231.7" cy="428.6" r="0.85"/><circle cx="245.7" cy="431.9" r="0.85"/><circle cx="219.8" cy="439.5" r="0.85"/><circle cx="237.0" cy="432.6" r="0.85"/><circle cx="256.4" cy="443.3" r="0.85"/><circle cx="262.5" cy="437.9" r="0.85"/><circle cx="229.2" cy="446.5" r="0.85"/><circle cx="232.4" cy="439.3" r="0.85"/><circle cx="212.5" cy="441.0" r="0.85"/><circle cx="235.6" cy="440.4" r="0.85"/><circle cx="246.8" cy="444.1" r="0.85"/><circle cx="248.7" cy="438.0" r="0.85"/><circle cx="239.9" cy="450.3" r="0.85"/><circle cx="235.7" cy="437.9" r="0.85"/><circle cx="249.5" cy="445.0" r="0.85"/><circle cx="256.8" cy="443.9" r="0.85"/><circle cx="256.0" cy="432.1" r="0.85"/><circle cx="213.1" cy="440.1" r="0.85"/><circle cx="237.0" cy="433.7" r="0.85"/><circle cx="237.4" cy="431.7" r="0.85"/><circle cx="241.3" cy="436.9" r="0.85"/><circle cx="217.7" cy="441.1" r="0.85"/><circle cx="248.9" cy="445.0" r="0.85"/><circle cx="235.4" cy="452.1" r="0.85"/><circle cx="221.7" cy="449.9" r="0.85"/><circle cx="254.7" cy="449.3" r="0.85"/><circle cx="229.4" cy="432.7" r="0.85"/><circle cx="243.9" cy="431.5" r="0.85"/><circle cx="251.6" cy="433.2" r="0.85"/><circle cx="247.7" cy="437.1" r="0.85"/><circle cx="233.1" cy="450.2" r="0.85"/><circle cx="236.4" cy="428.5" r="0.85"/><circle cx="220.8" cy="446.7" r="0.85"/><circle cx="235.1" cy="429.5" r="0.85"/><circle cx="254.1" cy="447.0" r="0.85"/><circle cx="241.2" cy="441.8" r="0.85"/><circle cx="238.2" cy="453.4" r="0.85"/><circle cx="249.2" cy="439.5" r="0.85"/><circle cx="237.0" cy="438.7" r="0.85"/><circle cx="215.9" cy="435.0" r="0.85"/><circle cx="225.3" cy="443.0" r="0.85"/><circle cx="244.8" cy="437.5" r="0.85"/><circle cx="221.6" cy="431.7" r="0.85"/><circle cx="223.5" cy="438.5" r="0.85"/><circle cx="246.0" cy="430.2" r="0.85"/><circle cx="254.0" cy="424.6" r="0.85"/><circle cx="234.3" cy="443.3" r="0.85"/><circle cx="261.6" cy="426.0" r="0.85"/><circle cx="228.4" cy="433.0" r="0.85"/><circle cx="227.1" cy="449.1" r="0.85"/><circle cx="251.2" cy="434.1" r="0.85"/><circle cx="235.6" cy="425.5" r="0.85"/><circle cx="257.9" cy="440.7" r="0.85"/><circle cx="214.6" cy="452.3" r="0.85"/><circle cx="233.6" cy="440.4" r="0.85"/><circle cx="239.7" cy="437.2" r="0.85"/><circle cx="222.3" cy="441.2" r="0.85"/><circle cx="224.4" cy="433.9" r="0.85"/><circle cx="222.3" cy="437.8" r="0.85"/><circle cx="244.3" cy="438.9" r="0.85"/><circle cx="230.1" cy="433.8" r="0.85"/><circle cx="232.1" cy="443.2" r="0.85"/><circle cx="255.9" cy="433.5" r="0.85"/><circle cx="239.3" cy="453.4" r="0.85"/><circle cx="238.4" cy="431.4" r="0.85"/><circle cx="238.3" cy="438.4" r="0.85"/><circle cx="253.8" cy="434.6" r="0.85"/><circle cx="243.4" cy="429.7" r="0.85"/><circle cx="250.6" cy="445.9" r="0.85"/><circle cx="239.3" cy="442.7" r="0.85"/><circle cx="199.3" cy="437.8" r="0.85"/><circle cx="203.9" cy="442.8" r="0.85"/><circle cx="225.5" cy="438.2" r="0.85"/><circle cx="224.3" cy="444.8" r="0.85"/><circle cx="225.5" cy="438.8" r="0.85"/><circle cx="265.6" cy="448.0" r="0.85"/><circle cx="198.3" cy="447.1" r="0.85"/><circle cx="226.8" cy="446.2" r="0.85"/><circle cx="232.8" cy="438.3" r="0.85"/><circle cx="207.1" cy="438.2" r="0.85"/><circle cx="209.0" cy="434.2" r="0.85"/><circle cx="237.3" cy="421.9" r="0.85"/><circle cx="247.5" cy="438.3" r="0.85"/><circle cx="239.3" cy="436.3" r="0.85"/><circle cx="220.8" cy="448.8" r="0.85"/><circle cx="252.1" cy="425.8" r="0.85"/><circle cx="225.5" cy="440.0" r="0.85"/><circle cx="225.1" cy="431.0" r="0.85"/><circle cx="254.0" cy="442.6" r="0.85"/><circle cx="227.6" cy="441.9" r="0.85"/><circle cx="237.1" cy="432.0" r="0.85"/><circle cx="251.7" cy="438.5" r="0.85"/><circle cx="216.7" cy="434.9" r="0.85"/><circle cx="243.6" cy="439.5" r="0.85"/><circle cx="141.5" cy="488.2" r="0.85"/><circle cx="171.0" cy="458.5" r="0.85"/><circle cx="252.0" cy="473.6" r="0.85"/><circle cx="288.9" cy="458.5" r="0.85"/><circle cx="215.1" cy="457.6" r="0.85"/><circle cx="277.5" cy="420.3" r="0.85"/><circle cx="286.1" cy="425.7" r="0.85"/><circle cx="273.3" cy="424.8" r="0.85"/><circle cx="233.5" cy="459.4" r="0.85"/><circle cx="260.5" cy="459.4" r="0.85"/><circle cx="269.0" cy="447.0" r="0.85"/></g><path d="M82.5 486.3L293.9 395.9" stroke="#222" stroke-width="0.8" fill="none"/><rect x="82.5" y="384.1" width="211.39999999999998" height="114.89999999999998" fill="none" stroke="#3a3a3a" stroke-width="1.1"/><path d="M82.5 492.2h1.8M82.5 487.8h3.2M82.5 483.3h1.8M82.5 478.9h1.8M82.5 474.5h1.8M82.5 470.0h1.8M82.5 465.6h1.8M82.5 461.1h1.8M82.5 456.7h1.8M82.5 452.3h3.2M82.5 447.8h1.8M82.5 443.4h1.8M82.5 439.0h1.8M82.5 434.5h1.8M82.5 430.1h1.8M82.5 425.7h1.8M82.5 421.2h1.8M82.5 416.8h3.2M82.5 412.4h1.8M82.5 407.9h1.8M82.5 403.5h1.8M82.5 399.1h1.8M82.5 394.6h1.8M82.5 390.2h1.8M83.0 499.0v-1.8M90.1 499.0v-1.8M97.2 499.0v-1.8M104.3 499.0v-1.8M111.4 499.0v-1.8M118.5 499.0v-1.8M125.6 499.0v-3.0M132.7 499.0v-1.8M139.8 499.0v-1.8M146.9 499.0v-1.8M154.0 499.0v-1.8M161.1 499.0v-1.8M168.2 499.0v-1.8M175.3 499.0v-1.8M182.4 499.0v-3.0M189.5 499.0v-1.8M196.6 499.0v-1.8M203.7 499.0v-1.8M210.8 499.0v-1.8M217.9 499.0v-1.8M225.0 499.0v-1.8M232.1 499.0v-1.8M239.2 499.0v-3.0M246.3 499.0v-1.8M253.4 499.0v-1.8M260.5 499.0v-1.8M267.6 499.0v-1.8M274.7 499.0v-1.8M281.8 499.0v-1.8M288.9 499.0v-1.8" stroke="#222" stroke-width="0.6" fill="none"/><text x="76.3" y="420.2" text-anchor="end" font-size="11.3" fill="#222">80</text><text x="76.3" y="455.7" text-anchor="end" font-size="11.3" fill="#222">76</text><text x="76.3" y="491.2" text-anchor="end" font-size="11.3" fill="#222">72</text><text x="125.6" y="511.9" text-anchor="middle" font-size="11.3" fill="#222">60</text><text x="182.4" y="511.9" text-anchor="middle" font-size="11.3" fill="#222">64</text><text x="239.2" y="511.9" text-anchor="middle" font-size="11.3" fill="#222">68</text><text x="51.4" y="390.1" font-size="8.4" fill="#222">T</text><text x="58.2" y="387.0" font-size="5" fill="#222">2</text><text x="57.2" y="391.4" font-size="4.8" fill="#222">m</text><text x="63.6" y="390.1" font-size="8.4" fill="#222">,</text><text x="68.0" y="390.1" font-size="8.4" fill="#222">°C</text><text x="267.0" y="512.5" font-size="8.4" fill="#222">T</text><text x="273.8" y="509.4" font-size="5" fill="#222">1</text><text x="272.8" y="513.8" font-size="4.8" fill="#222">m</text><text x="279.2" y="512.5" font-size="8.4" fill="#222">,</text><text x="283.6" y="512.5" font-size="8.4" fill="#222">°C</text><rect x="93" y="409" width="5" height="41.7" fill="#4f81bd"/><text transform="translate(98.1,406.4) rotate(-90)" font-size="7.4" letter-spacing="0.15" fill="#222">Ctrl</text><rect x="99.8" y="440" width="5.1" height="10.7" fill="#c98b6d"/><text transform="translate(104.9,437.4) rotate(-90)" font-size="7.4" letter-spacing="0.15" fill="#222">POAG</text><rect x="106.4" y="438.8" width="5" height="11.9" fill="#2dbd7c"/><text transform="translate(111.5,436.2) rotate(-90)" font-size="7.4" letter-spacing="0.15" fill="#222">PRD</text><rect x="266.3" y="444.4" width="4.7" height="37.8" fill="#4f81bd"/><text transform="translate(271.3,441.8) rotate(-90)" font-size="7.4" letter-spacing="0.15" fill="#222">Ctrl</text><rect x="272.1" y="455.2" width="5.1" height="27.0" fill="#c98b6d"/><text transform="translate(277.3,452.6) rotate(-90)" font-size="7.4" letter-spacing="0.15" fill="#222">POAG</text><rect x="278.5" y="469.1" width="5" height="13.1" fill="#2dbd7c"/><text transform="translate(283.6,466.5) rotate(-90)" font-size="7.4" letter-spacing="0.15" fill="#222">PRD</text><text x="93" y="465.4" font-size="7.4" fill="#222">Cluster 1</text><text x="291.6" y="493.6" text-anchor="end" font-size="7.4" fill="#222">Cluster 2</text><text x="182.4" y="528.8" text-anchor="middle" font-size="7.4" fill="#222">Cluster analysis</text><path d="M353.30 345.00A22.1 22.1 0 1 1 376.94 367.05L376.52 361.06A16.1 16.1 0 1 0 359.30 345.00Z" fill="#0ba196" stroke="#fff" stroke-width="0.45"/><path d="M376.42 366.85A21.8 21.8 0 0 1 353.10 345.10L358.80 345.10A16.1 16.1 0 0 0 376.02 361.16Z" fill="#ff6f10" stroke="#fff" stroke-width="0.45"/><path d="M375.20 344.90L359.60 344.90A15.6 15.6 0 0 1 369.15 330.52Z" fill="#1685ff" stroke="#fff" stroke-width="0.4" stroke-linejoin="round"/><path d="M375.20 344.90L376.29 360.46A15.6 15.6 0 0 1 365.66 357.24Z" fill="#ffe68c" stroke="#fff" stroke-width="0.4" stroke-linejoin="round"/><path d="M375.20 344.90L365.66 357.24A15.6 15.6 0 0 1 359.60 344.90Z" fill="#aee6fa" stroke="#fff" stroke-width="0.4" stroke-linejoin="round"/><path d="M375.69 344.78L369.49 330.03A16.0 16.0 0 1 1 376.80 360.75Z" fill="#ffbe0a" stroke="#fff" stroke-width="0.4" stroke-linejoin="round"/><path d="M402.10 345.00A22.1 22.1 0 1 1 419.00 366.48L420.41 360.65A16.1 16.1 0 1 0 408.10 345.00Z" fill="#0ba196" stroke="#fff" stroke-width="0.45"/><path d="M418.57 366.29A21.8 21.8 0 0 1 401.90 345.10L407.60 345.10A16.1 16.1 0 0 0 419.91 360.75Z" fill="#ff6f10" stroke="#fff" stroke-width="0.45"/><path d="M424.00 344.90L408.40 344.90A15.6 15.6 0 0 1 420.38 329.72Z" fill="#1685ff" stroke="#fff" stroke-width="0.4" stroke-linejoin="round"/><path d="M424.00 344.90L420.33 360.06A15.6 15.6 0 0 1 412.87 355.83Z" fill="#ffe68c" stroke="#fff" stroke-width="0.4" stroke-linejoin="round"/><path d="M424.00 344.90L412.87 355.83A15.6 15.6 0 0 1 408.40 344.90Z" fill="#aee6fa" stroke="#fff" stroke-width="0.4" stroke-linejoin="round"/><path d="M424.50 344.90L420.79 329.34A16.0 16.0 0 1 1 420.74 360.45Z" fill="#ffbe0a" stroke="#fff" stroke-width="0.4" stroke-linejoin="round"/><path d="M450.90 345.00A22.1 22.1 0 1 1 467.80 366.48L469.21 360.65A16.1 16.1 0 1 0 456.90 345.00Z" fill="#0ba196" stroke="#fff" stroke-width="0.45"/><path d="M467.37 366.29A21.8 21.8 0 0 1 450.70 345.10L456.40 345.10A16.1 16.1 0 0 0 468.71 360.75Z" fill="#ff6f10" stroke="#fff" stroke-width="0.45"/><path d="M472.80 344.90L457.20 344.90A15.6 15.6 0 0 1 468.24 329.98Z" fill="#1685ff" stroke="#fff" stroke-width="0.4" stroke-linejoin="round"/><path d="M472.80 344.90L469.13 360.06A15.6 15.6 0 0 1 462.16 356.31Z" fill="#ffe68c" stroke="#fff" stroke-width="0.4" stroke-linejoin="round"/><path d="M472.80 344.90L462.16 356.31A15.6 15.6 0 0 1 457.20 344.90Z" fill="#aee6fa" stroke="#fff" stroke-width="0.4" stroke-linejoin="round"/><path d="M473.30 344.89L468.62 329.58A16.0 16.0 0 1 1 469.54 360.44Z" fill="#ffbe0a" stroke="#fff" stroke-width="0.4" stroke-linejoin="round"/><path d="M499.60 345.00A22.1 22.1 0 1 1 514.76 365.98L516.64 360.29A16.1 16.1 0 1 0 505.60 345.00Z" fill="#0ba196" stroke="#fff" stroke-width="0.45"/><path d="M514.35 365.80A21.8 21.8 0 0 1 499.40 345.10L505.10 345.10A16.1 16.1 0 0 0 516.14 360.39Z" fill="#ff6f10" stroke="#fff" stroke-width="0.45"/><path d="M521.50 344.90L505.90 344.90A15.6 15.6 0 0 1 519.60 329.42Z" fill="#1685ff" stroke="#fff" stroke-width="0.4" stroke-linejoin="round"/><path d="M521.50 344.90L516.60 359.71A15.6 15.6 0 0 1 509.16 354.44Z" fill="#ffe68c" stroke="#fff" stroke-width="0.4" stroke-linejoin="round"/><path d="M521.50 344.90L509.16 354.44A15.6 15.6 0 0 1 505.90 344.90Z" fill="#aee6fa" stroke="#fff" stroke-width="0.4" stroke-linejoin="round"/><path d="M522.00 344.95L520.05 329.07A16.0 16.0 0 1 1 516.97 360.14Z" fill="#ffbe0a" stroke="#fff" stroke-width="0.4" stroke-linejoin="round"/><path d="M353.30 398.90A22.1 22.1 0 1 1 379.47 420.62L378.36 414.73A16.1 16.1 0 1 0 359.30 398.90Z" fill="#0ba196" stroke="#fff" stroke-width="0.45"/><path d="M378.91 420.43A21.8 21.8 0 0 1 353.10 399.00L358.80 399.00A16.1 16.1 0 0 0 377.86 414.83Z" fill="#ff6f10" stroke="#fff" stroke-width="0.45"/><path d="M375.20 398.80L359.60 398.80A15.6 15.6 0 0 1 390.07 394.08Z" fill="#1685ff" stroke="#fff" stroke-width="0.4" stroke-linejoin="round"/><path d="M375.20 398.80L378.07 414.13A15.6 15.6 0 0 1 364.82 410.45Z" fill="#ffe68c" stroke="#fff" stroke-width="0.4" stroke-linejoin="round"/><path d="M375.20 398.80L364.82 410.45A15.6 15.6 0 0 1 359.60 398.80Z" fill="#aee6fa" stroke="#fff" stroke-width="0.4" stroke-linejoin="round"/><path d="M375.63 399.06L390.88 394.22A16.0 16.0 0 0 1 378.57 414.78Z" fill="#ffbe0a" stroke="#fff" stroke-width="0.4" stroke-linejoin="round"/><path d="M402.10 398.90A22.1 22.1 0 1 1 424.59 421.00L424.48 415.00A16.1 16.1 0 1 0 408.10 398.90Z" fill="#0ba196" stroke="#fff" stroke-width="0.45"/><path d="M424.08 420.80A21.8 21.8 0 0 1 401.90 399.00L407.60 399.00A16.1 16.1 0 0 0 423.98 415.10Z" fill="#ff6f10" stroke="#fff" stroke-width="0.45"/><path d="M424.00 398.80L408.40 398.80A15.6 15.6 0 0 1 438.95 394.34Z" fill="#1685ff" stroke="#fff" stroke-width="0.4" stroke-linejoin="round"/><path d="M424.00 398.80L424.27 414.40A15.6 15.6 0 0 1 412.87 409.73Z" fill="#ffe68c" stroke="#fff" stroke-width="0.4" stroke-linejoin="round"/><path d="M424.00 398.80L412.87 409.73A15.6 15.6 0 0 1 408.40 398.80Z" fill="#aee6fa" stroke="#fff" stroke-width="0.4" stroke-linejoin="round"/><path d="M424.40 399.10L439.74 394.52A16.0 16.0 0 0 1 424.68 415.09Z" fill="#ffbe0a" stroke="#fff" stroke-width="0.4" stroke-linejoin="round"/><path d="M450.90 398.90A22.1 22.1 0 1 1 473.27 421.00L473.20 415.00A16.1 16.1 0 1 0 456.90 398.90Z" fill="#0ba196" stroke="#fff" stroke-width="0.45"/><path d="M472.77 420.80A21.8 21.8 0 0 1 450.70 399.00L456.40 399.00A16.1 16.1 0 0 0 472.70 415.10Z" fill="#ff6f10" stroke="#fff" stroke-width="0.45"/><path d="M472.80 398.80L457.20 398.80A15.6 15.6 0 0 1 487.31 393.08Z" fill="#1685ff" stroke="#fff" stroke-width="0.4" stroke-linejoin="round"/><path d="M472.80 398.80L472.99 414.40A15.6 15.6 0 0 1 463.05 410.97Z" fill="#ffe68c" stroke="#fff" stroke-width="0.4" stroke-linejoin="round"/><path d="M472.80 398.80L463.05 410.97A15.6 15.6 0 0 1 457.20 398.80Z" fill="#aee6fa" stroke="#fff" stroke-width="0.4" stroke-linejoin="round"/><path d="M473.22 399.08L488.10 393.21A16.0 16.0 0 0 1 473.41 415.08Z" fill="#ffbe0a" stroke="#fff" stroke-width="0.4" stroke-linejoin="round"/><path d="M499.60 398.90A22.1 22.1 0 1 1 518.01 420.69L519.02 414.77A16.1 16.1 0 1 0 505.60 398.90Z" fill="#0ba196" stroke="#fff" stroke-width="0.45"/><path d="M517.56 420.49A21.8 21.8 0 0 1 499.40 399.00L505.10 399.00A16.1 16.1 0 0 0 518.52 414.87Z" fill="#ff6f10" stroke="#fff" stroke-width="0.45"/><path d="M521.50 398.80L505.90 398.80A15.6 15.6 0 0 1 536.57 394.76Z" fill="#1685ff" stroke="#fff" stroke-width="0.4" stroke-linejoin="round"/><path d="M521.50 398.80L518.90 414.18A15.6 15.6 0 0 1 510.47 409.83Z" fill="#ffe68c" stroke="#fff" stroke-width="0.4" stroke-linejoin="round"/><path d="M521.50 398.80L510.47 409.83A15.6 15.6 0 0 1 505.90 398.80Z" fill="#aee6fa" stroke="#fff" stroke-width="0.4" stroke-linejoin="round"/><path d="M521.87 399.14L537.32 395.00A16.0 16.0 0 0 1 519.20 414.91Z" fill="#ffbe0a" stroke="#fff" stroke-width="0.4" stroke-linejoin="round"/><path d="M353.30 452.40A22.1 22.1 0 1 1 387.82 470.68L384.45 465.72A16.1 16.1 0 1 0 359.30 452.40Z" fill="#0ba196" stroke="#fff" stroke-width="0.45"/><path d="M387.15 470.53A21.8 21.8 0 0 1 353.10 452.50L358.80 452.50A16.1 16.1 0 0 0 383.95 465.82Z" fill="#ff6f10" stroke="#fff" stroke-width="0.45"/><path d="M375.20 452.30L359.60 452.30A15.6 15.6 0 0 1 361.57 444.71Z" fill="#1685ff" stroke="#fff" stroke-width="0.4" stroke-linejoin="round"/><path d="M375.20 452.30L383.97 465.20A15.6 15.6 0 0 1 367.64 465.94Z" fill="#ffe68c" stroke="#fff" stroke-width="0.4" stroke-linejoin="round"/><path d="M375.20 452.30L367.64 465.94A15.6 15.6 0 0 1 359.60 452.30Z" fill="#aee6fa" stroke="#fff" stroke-width="0.4" stroke-linejoin="round"/><path d="M375.54 451.93L361.56 444.15A16.0 16.0 0 1 1 384.53 465.16Z" fill="#ffbe0a" stroke="#fff" stroke-width="0.4" stroke-linejoin="round"/><path d="M402.10 452.40A22.1 22.1 0 1 1 424.20 474.50L424.20 468.50A16.1 16.1 0 1 0 408.10 452.40Z" fill="#0ba196" stroke="#fff" stroke-width="0.45"/><path d="M423.70 474.30A21.8 21.8 0 0 1 401.90 452.50L407.60 452.50A16.1 16.1 0 0 0 423.70 468.60Z" fill="#ff6f10" stroke="#fff" stroke-width="0.45"/><path d="M424.00 452.30L424.00 467.90A15.6 15.6 0 0 1 408.40 452.30Z" fill="#aee6fa" stroke="#fff" stroke-width="0.4" stroke-linejoin="round"/><path d="M424.35 451.95L408.35 451.95A16.0 16.0 0 1 1 424.35 467.95Z" fill="#ffbe0a" stroke="#fff" stroke-width="0.4" stroke-linejoin="round"/><path d="M450.90 452.40A22.1 22.1 0 1 1 480.23 473.28L478.27 467.61A16.1 16.1 0 1 0 456.90 452.40Z" fill="#0ba196" stroke="#fff" stroke-width="0.45"/><path d="M479.63 473.10A21.8 21.8 0 0 1 450.70 452.50L456.40 452.50A16.1 16.1 0 0 0 477.77 467.71Z" fill="#ff6f10" stroke="#fff" stroke-width="0.45"/><path d="M472.80 452.30L457.20 452.30A15.6 15.6 0 0 1 457.34 450.21Z" fill="#1685ff" stroke="#fff" stroke-width="0.4" stroke-linejoin="round"/><path d="M472.80 452.30L477.90 467.04A15.6 15.6 0 0 1 470.57 467.74Z" fill="#ffe68c" stroke="#fff" stroke-width="0.4" stroke-linejoin="round"/><path d="M472.80 452.30L470.57 467.74A15.6 15.6 0 0 1 457.20 452.30Z" fill="#aee6fa" stroke="#fff" stroke-width="0.4" stroke-linejoin="round"/><path d="M473.12 451.91L457.26 449.77A16.0 16.0 0 1 1 478.35 467.03Z" fill="#ffbe0a" stroke="#fff" stroke-width="0.4" stroke-linejoin="round"/><path d="M499.60 452.40A22.1 22.1 0 1 1 531.84 472.04L529.08 466.71A16.1 16.1 0 1 0 505.60 452.40Z" fill="#0ba196" stroke="#fff" stroke-width="0.45"/><path d="M531.20 471.87A21.8 21.8 0 0 1 499.40 452.50L505.10 452.50A16.1 16.1 0 0 0 528.58 466.81Z" fill="#ff6f10" stroke="#fff" stroke-width="0.45"/><path d="M521.50 452.30L505.90 452.30A15.6 15.6 0 0 1 506.20 449.24Z" fill="#1685ff" stroke="#fff" stroke-width="0.4" stroke-linejoin="round"/><path d="M521.50 452.30L528.65 466.16A15.6 15.6 0 0 1 517.88 467.48Z" fill="#ffe68c" stroke="#fff" stroke-width="0.4" stroke-linejoin="round"/><path d="M521.50 452.30L517.88 467.48A15.6 15.6 0 0 1 505.90 452.30Z" fill="#aee6fa" stroke="#fff" stroke-width="0.4" stroke-linejoin="round"/><path d="M521.80 451.90L506.11 448.77A16.0 16.0 0 1 1 529.14 466.12Z" fill="#ffbe0a" stroke="#fff" stroke-width="0.4" stroke-linejoin="round"/><text x="375.3" y="311.9" text-anchor="middle" font-size="8.7" fill="#222">LR</text><text x="425.1" y="311.9" text-anchor="middle" font-size="8.7" fill="#222">SVM</text><text x="474.9" y="311.9" text-anchor="middle" font-size="8.7" fill="#222">RF</text><text x="521.6" y="311.9" text-anchor="middle" font-size="8.7" fill="#222">AB</text><text x="330.8" y="342.4" text-anchor="middle" font-size="6.8" fill="#222">POAG</text><text x="330.8" y="349.6" text-anchor="middle" font-size="6.8" fill="#222">vs Ctrl</text><text x="330.8" y="397.3" text-anchor="middle" font-size="6.8" fill="#222">POAG</text><text x="330.8" y="404" text-anchor="middle" font-size="6.8" fill="#222">vs</text><text x="330.8" y="410.6" text-anchor="middle" font-size="6.8" fill="#222">PRD</text><text x="331.4" y="451.7" text-anchor="middle" font-size="6.8" fill="#222">Ctrl vs</text><text x="331.4" y="458.5" text-anchor="middle" font-size="6.8" fill="#222">PRD</text><rect x="324.2" y="486.3" width="7.9" height="8.1" fill="#1685ff"/><text x="335.6" y="489.9" font-size="4.7" fill="#3a4250">True</text><text x="335.6" y="494.5" font-size="4.7" fill="#3a4250">positive</text><rect x="359.7" y="486.3" width="7.9" height="8.1" fill="#ffbe0a"/><text x="371.1" y="489.9" font-size="4.7" fill="#3a4250">True</text><text x="371.1" y="494.5" font-size="4.7" fill="#3a4250">negative</text><rect x="393.6" y="486.3" width="7.9" height="8.1" fill="#aee6fa"/><text x="405.0" y="489.9" font-size="4.7" fill="#3a4250">False</text><text x="405.0" y="494.5" font-size="4.7" fill="#3a4250">negative</text><rect x="428.3" y="486.3" width="7.9" height="8.1" fill="#ffe68c"/><text x="439.7" y="489.9" font-size="4.7" fill="#3a4250">False</text><text x="439.7" y="494.5" font-size="4.7" fill="#3a4250">positive</text><rect x="463.8" y="486.3" width="7.9" height="8.1" fill="#0ba196"/><text x="475.2" y="489.9" font-size="4.7" fill="#3a4250">Good</text><text x="475.2" y="494.5" font-size="4.7" fill="#3a4250">classification</text><rect x="504" y="486.3" width="7.9" height="8.1" fill="#ff6f10"/><text x="515.4" y="489.9" font-size="4.7" fill="#3a4250">Failed</text><text x="515.4" y="494.5" font-size="4.7" fill="#3a4250">classification</text><text x="441.3" y="528.2" text-anchor="middle" font-size="7.6" fill="#222">Machine learning</text>
</svg>
</body></html>
